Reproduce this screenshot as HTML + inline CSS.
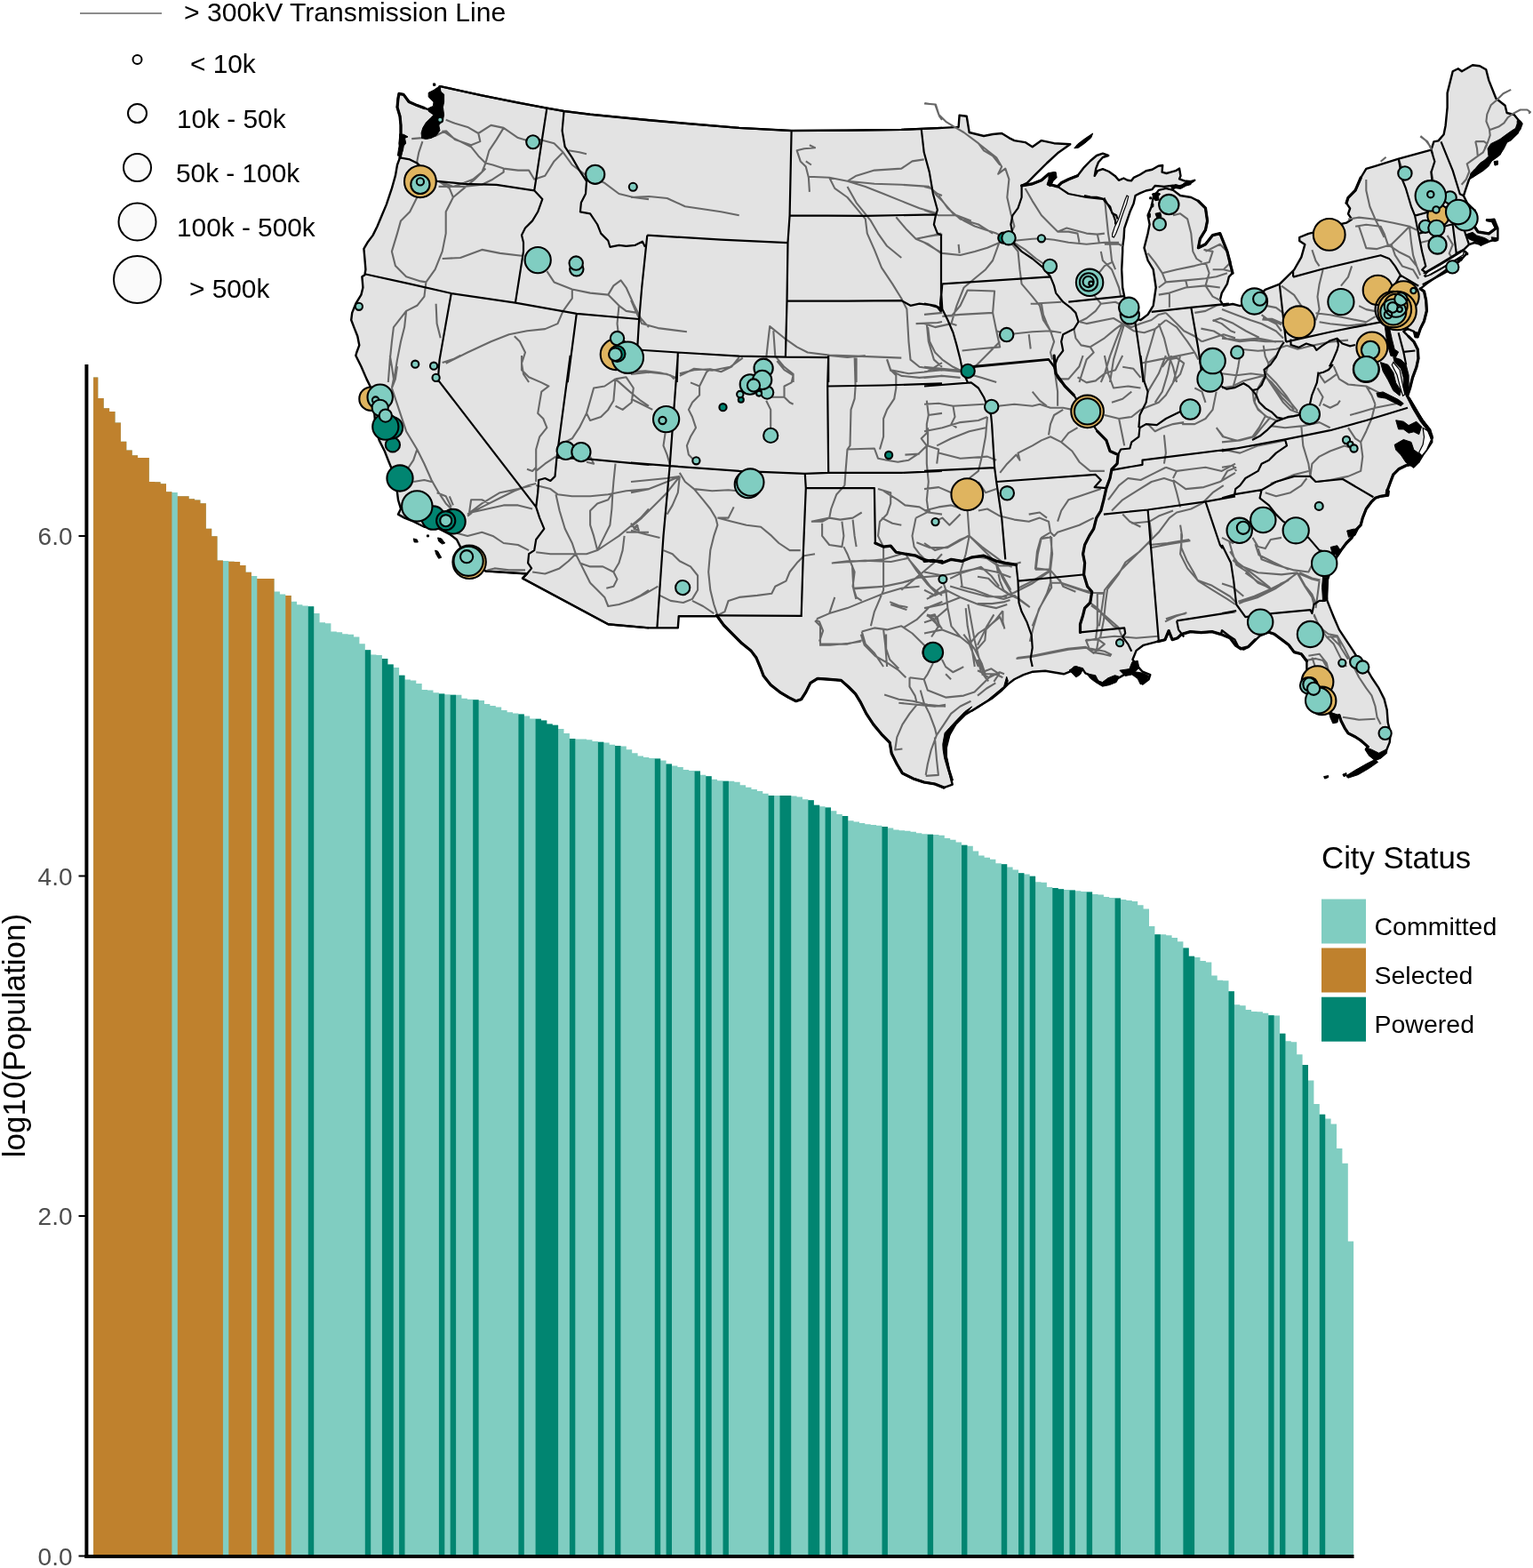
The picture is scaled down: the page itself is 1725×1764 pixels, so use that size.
<!DOCTYPE html><html><head><meta charset="utf-8"><title>City Status</title><style>html,body{margin:0;padding:0;background:#fff}svg{display:block}text{font-family:"Liberation Sans",Arial,sans-serif}</style></head><body>
<svg width="1725" height="1764" viewBox="0 0 1725 1764">
<rect width="1725" height="1764" fill="#fff"/>
<path d="M105.1,1750.5 L105.1,424.5 L110.3,424.5 L110.3,448.1 L116.7,448.1 L116.7,459.3 L123.1,459.3 L123.1,462.9 L129.5,462.9 L129.5,475.5 L135.9,475.5 L135.9,496.7 L142.3,496.7 L142.3,506.4 L148.7,506.4 L148.7,512.2 L155.0,512.2 L155.0,515.1 L161.4,515.1 L161.4,515.1 L167.8,515.1 L167.8,541.9 L174.2,541.9 L174.2,542.2 L180.6,542.2 L180.6,544.3 L187.0,544.3 L187.0,553.2 L193.4,553.2 L193.4,553.9 L199.8,553.9 L199.8,558.3 L206.2,558.3 L206.2,558.3 L212.6,558.3 L212.6,561.2 L219.0,561.2 L219.0,562.5 L225.4,562.5 L225.4,566.2 L231.8,566.2 L231.8,594.8 L238.2,594.8 L238.2,603.2 L244.5,603.2 L244.5,630.6 L250.9,630.6 L250.9,631.0 L257.3,631.0 L257.3,631.7 L263.7,631.7 L263.7,632.0 L270.1,632.0 L270.1,636.1 L276.5,636.1 L276.5,643.8 L282.9,643.8 L282.9,648.1 L289.3,648.1 L289.3,651.0 L295.7,651.0 L295.7,651.0 L302.1,651.0 L302.1,651.0 L308.5,651.0 L308.5,665.5 L314.9,665.5 L314.9,668.4 L321.3,668.4 L321.3,669.9 L327.7,669.9 L327.7,676.7 L334.0,676.7 L334.0,680.3 L340.4,680.3 L340.4,681.4 L346.8,681.4 L346.8,682.2 L353.2,682.2 L353.2,690.1 L359.6,690.1 L359.6,700.3 L366.0,700.3 L366.0,701.3 L372.4,701.3 L372.4,710.4 L378.8,710.4 L378.8,711.2 L385.2,711.2 L385.2,713.3 L391.6,713.3 L391.6,713.8 L398.0,713.8 L398.0,716.5 L404.4,716.5 L404.4,724.2 L410.8,724.2 L410.8,731.2 L417.2,731.2 L417.2,736.5 L423.5,736.5 L423.5,737.0 L429.9,737.0 L429.9,740.9 L436.3,740.9 L436.3,747.4 L442.7,747.4 L442.7,751.0 L449.1,751.0 L449.1,759.7 L455.5,759.7 L455.5,764.5 L461.9,764.5 L461.9,765.5 L468.3,765.5 L468.3,769.1 L474.7,769.1 L474.7,775.9 L481.1,775.9 L481.1,776.4 L487.5,776.4 L487.5,779.3 L493.9,779.3 L493.9,780.4 L500.3,780.4 L500.3,781.2 L506.7,781.2 L506.7,781.7 L513.1,781.7 L513.1,781.7 L519.4,781.7 L519.4,785.8 L525.8,785.8 L525.8,786.8 L532.2,786.8 L532.2,787.2 L538.6,787.2 L538.6,788.1 L545.0,788.1 L545.0,792.0 L551.4,792.0 L551.4,793.9 L557.8,793.9 L557.8,795.4 L564.2,795.4 L564.2,799.0 L570.6,799.0 L570.6,801.2 L577.0,801.2 L577.0,802.6 L583.4,802.6 L583.4,803.6 L589.8,803.6 L589.8,805.5 L596.2,805.5 L596.2,808.4 L602.6,808.4 L602.6,808.7 L608.9,808.7 L608.9,810.6 L615.3,810.6 L615.3,814.5 L621.7,814.5 L621.7,815.7 L628.1,815.7 L628.1,820.0 L634.5,820.0 L634.5,825.1 L640.9,825.1 L640.9,830.9 L647.3,830.9 L647.3,831.6 L653.7,831.6 L653.7,831.6 L660.1,831.6 L660.1,832.3 L666.5,832.3 L666.5,834.1 L672.9,834.1 L672.9,834.8 L679.3,834.8 L679.3,835.5 L685.7,835.5 L685.7,837.7 L692.1,837.7 L692.1,839.1 L698.4,839.1 L698.4,839.6 L704.8,839.6 L704.8,843.2 L711.2,843.2 L711.2,847.2 L717.6,847.2 L717.6,850.4 L724.0,850.4 L724.0,851.9 L730.4,851.9 L730.4,853.0 L736.8,853.0 L736.8,853.6 L743.2,853.6 L743.2,855.5 L749.6,855.5 L749.6,859.4 L756.0,859.4 L756.0,861.5 L762.4,861.5 L762.4,862.9 L768.8,862.9 L768.8,865.9 L775.2,865.9 L775.2,867.0 L781.6,867.0 L781.6,867.4 L788.0,867.4 L788.0,871.7 L794.3,871.7 L794.3,873.2 L800.7,873.2 L800.7,876.8 L807.1,876.8 L807.1,878.3 L813.5,878.3 L813.5,878.7 L819.9,878.7 L819.9,878.7 L826.3,878.7 L826.3,879.7 L832.7,879.7 L832.7,883.3 L839.1,883.3 L839.1,885.8 L845.5,885.8 L845.5,888.0 L851.9,888.0 L851.9,889.9 L858.3,889.9 L858.3,892.8 L864.7,892.8 L864.7,894.9 L871.1,894.9 L871.1,894.9 L877.5,894.9 L877.5,894.9 L883.8,894.9 L883.8,894.9 L890.2,894.9 L890.2,895.4 L896.6,895.4 L896.6,896.4 L903.0,896.4 L903.0,899.3 L909.4,899.3 L909.4,900.3 L915.8,900.3 L915.8,905.8 L922.2,905.8 L922.2,907.2 L928.6,907.2 L928.6,908.4 L935.0,908.4 L935.0,912.3 L941.4,912.3 L941.4,915.9 L947.8,915.9 L947.8,918.1 L954.2,918.1 L954.2,923.2 L960.6,923.2 L960.6,924.6 L967.0,924.6 L967.0,926.1 L973.3,926.1 L973.3,927.2 L979.7,927.2 L979.7,928.0 L986.1,928.0 L986.1,928.8 L992.5,928.8 L992.5,930.0 L998.9,930.0 L998.9,931.4 L1005.3,931.4 L1005.3,933.6 L1011.7,933.6 L1011.7,934.3 L1018.1,934.3 L1018.1,934.8 L1024.5,934.8 L1024.5,935.8 L1030.9,935.8 L1030.9,937.2 L1037.3,937.2 L1037.3,938.3 L1043.7,938.3 L1043.7,938.7 L1050.1,938.7 L1050.1,939.1 L1056.5,939.1 L1056.5,939.7 L1062.8,939.7 L1062.8,943.0 L1069.2,943.0 L1069.2,944.8 L1075.6,944.8 L1075.6,947.4 L1082.0,947.4 L1082.0,950.7 L1088.4,950.7 L1088.4,951.7 L1094.8,951.7 L1094.8,957.5 L1101.2,957.5 L1101.2,962.6 L1107.6,962.6 L1107.6,964.8 L1114.0,964.8 L1114.0,966.7 L1120.4,966.7 L1120.4,971.3 L1126.8,971.3 L1126.8,972.3 L1133.2,972.3 L1133.2,975.4 L1139.6,975.4 L1139.6,978.6 L1146.0,978.6 L1146.0,982.2 L1152.4,982.2 L1152.4,983.6 L1158.7,983.6 L1158.7,985.8 L1165.1,985.8 L1165.1,992.3 L1171.5,992.3 L1171.5,992.8 L1177.9,992.8 L1177.9,998.1 L1184.3,998.1 L1184.3,999.1 L1190.7,999.1 L1190.7,1000.3 L1197.1,1000.3 L1197.1,1001.0 L1203.5,1001.0 L1203.5,1001.4 L1209.9,1001.4 L1209.9,1002.3 L1216.3,1002.3 L1216.3,1003.0 L1222.7,1003.0 L1222.7,1003.5 L1229.1,1003.5 L1229.1,1006.1 L1235.5,1006.1 L1235.5,1006.4 L1241.9,1006.4 L1241.9,1009.0 L1248.2,1009.0 L1248.2,1010.0 L1254.6,1010.0 L1254.6,1010.4 L1261.0,1010.4 L1261.0,1011.9 L1267.4,1011.9 L1267.4,1012.9 L1273.8,1012.9 L1273.8,1013.9 L1280.2,1013.9 L1280.2,1018.3 L1286.6,1018.3 L1286.6,1022.6 L1293.0,1022.6 L1293.0,1041.9 L1299.4,1041.9 L1299.4,1051.3 L1305.8,1051.3 L1305.8,1051.3 L1312.2,1051.3 L1312.2,1052.3 L1318.6,1052.3 L1318.6,1054.9 L1325.0,1054.9 L1325.0,1059.3 L1331.4,1059.3 L1331.4,1066.5 L1337.7,1066.5 L1337.7,1075.7 L1344.1,1075.7 L1344.1,1077.1 L1350.5,1077.1 L1350.5,1081.0 L1356.9,1081.0 L1356.9,1082.5 L1363.3,1082.5 L1363.3,1097.4 L1369.7,1097.4 L1369.7,1102.8 L1376.1,1102.8 L1376.1,1103.2 L1382.5,1103.2 L1382.5,1115.3 L1388.9,1115.3 L1388.9,1130.2 L1395.3,1130.2 L1395.3,1131.3 L1401.7,1131.3 L1401.7,1136.0 L1408.1,1136.0 L1408.1,1137.9 L1414.5,1137.9 L1414.5,1138.3 L1420.9,1138.3 L1420.9,1139.8 L1427.3,1139.8 L1427.3,1142.2 L1433.6,1142.2 L1433.6,1142.5 L1440.0,1142.5 L1440.0,1162.8 L1446.4,1162.8 L1446.4,1171.2 L1452.8,1171.2 L1452.8,1172.3 L1459.2,1172.3 L1459.2,1186.3 L1465.6,1186.3 L1465.6,1197.9 L1472.0,1197.9 L1472.0,1215.5 L1478.4,1215.5 L1478.4,1241.9 L1484.8,1241.9 L1484.8,1253.7 L1491.2,1253.7 L1491.2,1258.4 L1497.6,1258.4 L1497.6,1264.6 L1504.0,1264.6 L1504.0,1292.0 L1510.4,1292.0 L1510.4,1308.7 L1516.8,1308.7 L1516.8,1396.4 L1523.1,1396.4 L1523.1,1750.5Z" fill="#80CDC1"/>
<path d="M105.1,1750.5 L105.1,424.5 L110.3,424.5 L110.3,448.1 L116.7,448.1 L116.7,459.3 L123.1,459.3 L123.1,462.9 L129.5,462.9 L129.5,475.5 L135.9,475.5 L135.9,496.7 L142.3,496.7 L142.3,506.4 L148.7,506.4 L148.7,512.2 L155.0,512.2 L155.0,515.1 L161.4,515.1 L161.4,515.1 L167.8,515.1 L167.8,541.9 L174.2,541.9 L174.2,542.2 L180.6,542.2 L180.6,544.3 L187.0,544.3 L187.0,553.2 L193.4,553.2 L193.4,1750.5Z M199.8,1750.5 L199.8,558.3 L206.2,558.3 L206.2,558.3 L212.6,558.3 L212.6,561.2 L219.0,561.2 L219.0,562.5 L225.4,562.5 L225.4,566.2 L231.8,566.2 L231.8,594.8 L238.2,594.8 L238.2,603.2 L244.5,603.2 L244.5,630.6 L250.9,630.6 L250.9,1750.5Z M257.3,1750.5 L257.3,631.7 L263.7,631.7 L263.7,632.0 L270.1,632.0 L270.1,636.1 L276.5,636.1 L276.5,643.8 L282.9,643.8 L282.9,1750.5Z M289.3,1750.5 L289.3,651.0 L295.7,651.0 L295.7,651.0 L302.1,651.0 L302.1,651.0 L308.5,651.0 L308.5,1750.5Z M321.3,1750.5 L321.3,669.9 L327.7,669.9 L327.7,1750.5Z" fill="#BF812D"/>
<path d="M346.8,1750.5 L346.8,682.2 L353.2,682.2 L353.2,1750.5Z M410.8,1750.5 L410.8,731.2 L417.2,731.2 L417.2,1750.5Z M429.9,1750.5 L429.9,740.9 L436.3,740.9 L436.3,747.4 L442.7,747.4 L442.7,1750.5Z M449.1,1750.5 L449.1,759.7 L455.5,759.7 L455.5,1750.5Z M493.9,1750.5 L493.9,780.4 L500.3,780.4 L500.3,1750.5Z M506.7,1750.5 L506.7,781.7 L513.1,781.7 L513.1,1750.5Z M532.2,1750.5 L532.2,787.2 L538.6,787.2 L538.6,1750.5Z M583.4,1750.5 L583.4,803.6 L589.8,803.6 L589.8,1750.5Z M602.6,1750.5 L602.6,808.7 L608.9,808.7 L608.9,810.6 L615.3,810.6 L615.3,814.5 L621.7,814.5 L621.7,815.7 L628.1,815.7 L628.1,1750.5Z M640.9,1750.5 L640.9,830.9 L647.3,830.9 L647.3,1750.5Z M672.9,1750.5 L672.9,834.8 L679.3,834.8 L679.3,1750.5Z M692.1,1750.5 L692.1,839.1 L698.4,839.1 L698.4,1750.5Z M736.8,1750.5 L736.8,853.6 L743.2,853.6 L743.2,1750.5Z M749.6,1750.5 L749.6,859.4 L756.0,859.4 L756.0,1750.5Z M781.6,1750.5 L781.6,867.4 L788.0,867.4 L788.0,1750.5Z M794.3,1750.5 L794.3,873.2 L800.7,873.2 L800.7,1750.5Z M813.5,1750.5 L813.5,878.7 L819.9,878.7 L819.9,1750.5Z M864.7,1750.5 L864.7,894.9 L871.1,894.9 L871.1,1750.5Z M877.5,1750.5 L877.5,894.9 L883.8,894.9 L883.8,894.9 L890.2,894.9 L890.2,1750.5Z M909.4,1750.5 L909.4,900.3 L915.8,900.3 L915.8,905.8 L922.2,905.8 L922.2,1750.5Z M928.6,1750.5 L928.6,908.4 L935.0,908.4 L935.0,1750.5Z M947.8,1750.5 L947.8,918.1 L954.2,918.1 L954.2,1750.5Z M992.5,1750.5 L992.5,930.0 L998.9,930.0 L998.9,1750.5Z M1043.7,1750.5 L1043.7,938.7 L1050.1,938.7 L1050.1,1750.5Z M1082.0,1750.5 L1082.0,950.7 L1088.4,950.7 L1088.4,1750.5Z M1126.8,1750.5 L1126.8,972.3 L1133.2,972.3 L1133.2,1750.5Z M1146.0,1750.5 L1146.0,982.2 L1152.4,982.2 L1152.4,1750.5Z M1158.7,1750.5 L1158.7,985.8 L1165.1,985.8 L1165.1,1750.5Z M1184.3,1750.5 L1184.3,999.1 L1190.7,999.1 L1190.7,1000.3 L1197.1,1000.3 L1197.1,1750.5Z M1203.5,1750.5 L1203.5,1001.4 L1209.9,1001.4 L1209.9,1750.5Z M1222.7,1750.5 L1222.7,1003.5 L1229.1,1003.5 L1229.1,1750.5Z M1254.6,1750.5 L1254.6,1010.4 L1261.0,1010.4 L1261.0,1750.5Z M1299.4,1750.5 L1299.4,1051.3 L1305.8,1051.3 L1305.8,1750.5Z M1331.4,1750.5 L1331.4,1066.5 L1337.7,1066.5 L1337.7,1075.7 L1344.1,1075.7 L1344.1,1750.5Z M1382.5,1750.5 L1382.5,1115.3 L1388.9,1115.3 L1388.9,1750.5Z M1427.3,1750.5 L1427.3,1142.2 L1433.6,1142.2 L1433.6,1750.5Z M1440.0,1750.5 L1440.0,1162.8 L1446.4,1162.8 L1446.4,1750.5Z M1465.6,1750.5 L1465.6,1197.9 L1472.0,1197.9 L1472.0,1750.5Z M1484.8,1750.5 L1484.8,1253.7 L1491.2,1253.7 L1491.2,1750.5Z" fill="#018571"/>
<g stroke="#000" fill="none"><path d="M97.4,410 V1753" stroke-width="4"/><path d="M95.4,1751 H1523.5" stroke-width="4"/><path d="M88.5,1750.5 H96 M88.5,1368 H96 M88.5,985.5 H96 M88.5,603 H96" stroke-width="2"/></g>
<g font-size="28px" fill="#4d4d4d" text-anchor="end"><text x="81.5" y="1760.5">0.0</text><text x="81.5" y="1378">2.0</text><text x="81.5" y="995.5">4.0</text><text x="81.5" y="613">6.0</text></g>
<text transform="translate(27.6,1165) rotate(-90)" font-size="35px" text-anchor="middle">log10(Population)</text>
<path d="M449.0,105.4 L454.1,106.4 L460.1,114.5 L469.3,118.6 L477.4,121.6 L483.5,123.6 L489.6,128.7 L493.6,120.6 L495.7,110.4 L494.6,97.2 L495.7,97.2 L542.3,107.4 L582.9,115.5 L615.4,121.6 L634.6,125.0 L664.1,128.7 L730.0,135.2 L770.9,138.8 L831.7,143.9 L890.6,147.0 L953.5,146.6 L1014.3,145.9 L1036.7,144.9 L1060.0,143.9 L1078.6,142.9 L1079.6,129.7 L1087.7,130.7 L1090.7,149.0 L1107.0,153.0 L1117.1,151.0 L1127.2,150.0 L1135.4,155.1 L1141.4,158.1 L1153.6,160.1 L1161.7,165.2 L1171.9,158.1 L1186.1,161.2 L1204.3,162.2 L1190.1,172.3 L1178.0,183.5 L1165.8,195.7 L1155.7,205.8 L1149.6,208.8 L1161.7,206.8 L1171.9,202.8 L1180.0,195.7 L1186.1,194.6 L1182.0,207.8 L1190.1,209.9 L1194.2,205.8 L1202.3,201.7 L1212.5,197.7 L1220.0,188.1 L1226.9,181.0 L1234.0,175.0 L1240.9,172.7 L1247.2,175.0 L1240.9,177.0 L1236.0,182.5 L1233.2,189.6 L1231.7,197.9 L1235.2,192.2 L1240.9,190.2 L1247.8,193.0 L1254.7,197.9 L1258.9,202.8 L1264.4,200.5 L1268.7,202.8 L1272.9,203.4 L1275.6,199.9 L1282.7,196.5 L1289.6,192.2 L1296.5,190.8 L1303.4,186.7 L1308.2,185.9 L1307.6,193.6 L1312.5,195.0 L1317.4,193.6 L1322.8,192.2 L1327.1,189.6 L1328.5,197.9 L1327.1,201.3 L1332.6,203.4 L1339.9,204.2 L1344.3,202.8 L1338.3,206.8 L1324.1,209.9 L1320.0,208.8 L1309.9,209.9 L1299.7,209.0 L1296.5,213.1 L1289.6,214.5 L1282.7,217.4 L1277.6,220.0 L1275.6,229.1 L1271.5,238.3 L1268.7,246.6 L1265.2,256.9 L1264.6,267.5 L1263.2,277.8 L1263.2,282.9 L1262.2,303.2 L1263.2,323.5 L1265.2,333.6 L1269.3,343.8 L1275.4,358.0 L1283.5,360.0 L1291.6,353.9 L1297.7,343.8 L1300.7,323.5 L1297.7,303.2 L1291.6,293.0 L1287.5,278.8 L1291.6,262.6 L1293.6,252.5 L1291.6,242.3 L1295.7,232.2 L1297.7,222.0 L1303.8,213.9 L1311.9,211.9 L1320.0,213.9 L1328.1,220.0 L1340.3,222.0 L1348.4,226.1 L1356.5,234.2 L1358.6,248.4 L1356.5,258.6 L1350.4,268.7 L1348.4,278.8 L1356.5,274.8 L1364.6,264.6 L1372.8,262.6 L1380.9,282.9 L1384.9,299.1 L1387.0,307.2 L1382.9,311.3 L1380.9,319.4 L1374.8,329.6 L1372.8,337.7 L1376.8,343.8 L1387.2,342.0 L1395.3,344.1 L1411.5,338.0 L1423.7,325.8 L1439.9,319.7 L1456.2,303.5 L1464.3,289.3 L1468.3,275.1 L1462.2,271.0 L1462.2,267.0 L1472.4,262.9 L1480.5,260.9 L1496.7,254.8 L1515.0,250.7 L1521.1,246.7 L1517.0,240.6 L1519.1,234.5 L1515.0,228.4 L1517.0,222.3 L1525.1,214.2 L1531.2,200.0 L1537.3,189.9 L1547.5,186.8 L1573.8,178.7 L1610.4,168.6 L1613.4,159.4 L1618.5,158.4 L1624.6,151.3 L1626.6,141.2 L1628.6,120.9 L1628.6,104.6 L1634.7,80.3 L1640.8,77.2 L1644.9,80.3 L1657.0,73.2 L1665.1,74.2 L1672.2,78.3 L1675.3,90.4 L1683.4,110.7 L1693.6,118.8 L1695.6,127.0 L1703.7,129.0 L1711.8,139.1 L1707.8,149.3 L1699.6,157.4 L1691.5,161.4 L1687.5,173.6 L1679.3,179.7 L1667.2,185.8 L1659.1,191.9 L1653.0,202.0 L1648.9,214.2 L1646.9,220.3 L1650.9,228.4 L1659.1,236.5 L1661.1,246.7 L1659.1,254.8 L1663.1,260.9 L1675.3,262.9 L1683.4,256.8 L1679.3,248.7 L1673.3,247.7 L1681.4,246.7 L1685.4,256.8 L1685.4,269.0 L1677.3,271.0 L1667.2,275.1 L1659.1,273.0 L1653.0,275.1 L1646.9,281.2 L1638.8,285.2 L1648.9,282.9 L1650.4,285.1 L1644.6,291.6 L1634.4,298.8 L1619.9,309.0 L1605.4,319.1 L1598.2,324.9 L1602.5,327.8 L1604.7,338.0 L1605.4,349.6 L1602.5,361.2 L1598.2,369.9 L1595.3,378.6 L1592.4,378.6 L1590.9,372.8 L1583.7,369.9 L1579.3,372.8 L1585.1,378.6 L1590.9,384.3 L1595.3,393.0 L1596.0,403.2 L1593.8,413.3 L1589.5,424.9 L1586.6,436.5 L1583.7,445.2 L1586.6,449.6 L1590.9,456.8 L1596.7,467.0 L1602.5,475.7 L1608.3,484.3 L1611.2,490.1 L1611.2,497.4 L1605.4,506.1 L1601.1,511.9 L1596.7,519.1 L1592.1,521.7 L1582.0,523.8 L1573.8,527.8 L1567.8,533.9 L1564.7,542.0 L1561.7,550.1 L1561.7,557.2 L1553.6,558.3 L1547.5,560.3 L1543.4,564.3 L1537.3,572.5 L1533.3,582.6 L1531.2,590.7 L1525.1,596.8 L1521.1,604.9 L1515.0,611.0 L1508.9,619.1 L1504.9,625.2 L1496.7,643.5 L1492.7,653.6 L1491.7,663.8 L1492.7,673.9 L1496.7,684.1 L1500.8,694.2 L1506.9,708.4 L1515.0,720.6 L1523.1,732.8 L1529.2,742.9 L1535.3,747.8 L1543.4,762.0 L1551.5,774.2 L1557.6,786.4 L1560.7,798.6 L1561.7,812.8 L1564.7,824.9 L1563.7,835.1 L1559.6,845.2 L1553.6,851.3 L1547.5,854.3 L1541.4,849.3 L1537.3,843.2 L1539.3,840.1 L1531.2,833.0 L1525.1,829.0 L1517.0,824.9 L1513.0,818.8 L1508.9,810.7 L1506.9,804.6 L1500.8,808.7 L1496.7,802.6 L1488.6,798.6 L1472.4,782.3 L1470.4,751.9 L1470.4,743.8 L1464.3,735.7 L1456.2,733.6 L1450.1,725.5 L1442.0,719.4 L1433.8,713.3 L1427.8,711.3 L1417.6,715.4 L1411.5,721.4 L1405.4,727.5 L1399.3,730.6 L1393.3,727.5 L1389.2,719.4 L1383.1,715.4 L1375.0,709.3 L1373.9,713.6 L1363.8,710.6 L1351.6,711.6 L1339.4,710.6 L1329.3,713.6 L1325.2,717.7 L1319.1,719.7 L1315.1,709.6 L1311.0,719.7 L1302.9,721.7 L1286.7,725.8 L1278.6,731.9 L1274.5,742.0 L1280.6,750.1 L1285.7,755.7 L1294.3,759.1 L1292.6,764.3 L1285.7,769.6 L1282.2,762.6 L1273.5,757.4 L1264.8,759.1 L1256.1,764.3 L1247.4,769.6 L1238.7,769.6 L1230.0,760.9 L1221.3,757.4 L1217.8,752.2 L1209.1,750.4 L1203.9,755.7 L1197.0,758.3 L1186.5,756.5 L1176.1,754.8 L1162.2,755.7 L1151.7,759.1 L1141.3,764.3 L1134.3,769.6 L1127.4,776.5 L1117.0,785.2 L1099.6,795.7 L1085.7,804.3 L1075.2,814.8 L1068.3,827.0 L1064.8,840.9 L1064.8,853.0 L1068.3,868.7 L1071.7,882.6 L1062.0,886.1 L1051.9,882.0 L1039.7,880.0 L1027.5,875.9 L1015.4,869.9 L1009.3,859.7 L1003.2,847.5 L1001.2,835.4 L993.0,827.2 L982.9,815.1 L974.8,802.9 L968.7,790.7 L962.6,780.6 L954.5,772.5 L946.4,765.4 L934.2,764.3 L920.0,763.3 L911.9,768.4 L906.8,778.6 L901.7,786.7 L895.7,788.7 L887.5,784.6 L877.4,778.6 L867.2,770.4 L859.1,760.3 L856.1,752.2 L851.0,740.0 L844.9,731.9 L834.8,723.8 L824.6,713.6 L814.5,703.5 L806.4,692.3 L805.4,693.2 L763.8,693.2 L762.8,706.4 L739.4,706.4 L730.0,706.4 L684.3,702.3 L588.0,650.6 L593.0,645.5 L546.4,642.5 L529.1,631.3 L522.0,623.2 L518.0,615.1 L513.9,607.0 L505.8,600.9 L493.6,594.8 L477.4,592.8 L465.2,586.7 L455.1,582.6 L448.0,578.6 L451.0,572.5 L448.0,562.3 L447.0,554.2 L440.9,527.8 L436.8,517.7 L432.8,507.5 L426.7,495.4 L422.6,481.2 L420.6,456.8 L416.5,434.5 L412.5,426.4 L406.4,412.2 L400.3,400.0 L401.3,396.5 L404.3,388.4 L402.3,378.3 L398.3,368.1 L395.2,360.0 L396.2,351.9 L400.3,341.7 L406.4,331.6 L408.4,323.5 L407.4,311.3 L410.4,309.3 L411.4,303.2 L410.4,291.0 L409.4,279.9 L413.5,272.8 L419.6,264.6 L424.6,254.5 L429.7,242.3 L434.8,230.1 L440.9,211.9 L444.9,197.7 L447.0,185.5 L450.0,177.4 L451.0,173.3 L450.0,161.2 L451.0,151.0 L451.0,140.9 L450.0,130.7 L447.0,120.6 L448.0,110.4Z" fill="#E3E3E3" stroke="#000" stroke-width="2.4" stroke-linejoin="round"/>
<path d="M501.7,134.8 L511.9,138.8 L526.1,142.9 L538.3,150.0 L552.5,140.9 L566.7,143.9 L582.9,155.1 L593.0,158.1 L607.2,157.1 L623.5,161.2 L633.6,171.3 L643.8,185.5 L660.0,197.7 L680.3,205.8 L696.5,218.0 L712.8,222.0 L730.0,224.1 M566.7,143.9 L558.6,157.1 L550.4,169.3 L546.4,183.5 L542.3,193.6 L532.2,201.7 L522.0,205.8 L509.9,209.9 L493.6,203.8 M497.7,147.0 L509.9,155.1 L530.1,165.2 L538.3,175.4 L546.4,183.5 L554.5,185.5 L566.7,189.6 L582.9,191.6 L595.1,191.6 L601.2,201.7 L613.3,197.7 L623.5,181.4 L633.6,171.3 M538.3,150.0 L540.3,159.1 L530.1,163.2 L511.9,157.1 L501.7,147.0 M475.4,159.1 L471.3,171.3 L469.3,181.4 L471.3,193.6 M463.2,156.1 L475.4,155.1 L489.6,153.0 L501.7,147.0 M493.6,203.8 L505.8,211.9 L509.9,222.0 L501.7,238.3 L501.7,262.6 L497.7,282.9 L489.6,303.2 L479.4,317.4 L477.4,333.6 L469.3,343.8 L457.1,349.9 L455.1,368.1 L451.0,384.3 L447.0,404.6 L442.9,430.0 M469.3,222.0 L461.2,238.3 L451.0,248.4 L447.0,262.6 L440.9,282.9 L444.9,299.1 L457.1,311.3 L473.3,316.4 L479.4,317.4 M493.6,209.9 L522.0,209.9 L542.3,207.8 L554.5,201.7 L566.7,193.6 L566.7,189.6 M509.9,222.0 L522.0,211.9 L534.2,201.7 L546.4,189.6 M497.7,291.0 L518.0,290.0 L542.3,280.9 L562.6,284.9 L589.0,288.0 M615.4,305.2 L623.5,317.4 L643.8,325.5 L664.1,329.6 L684.3,331.6 L696.5,343.8 L694.5,364.1 L696.5,380.3 M643.8,325.5 L643.8,335.7 L633.6,349.9 L627.5,364.1 L613.3,370.1 L593.0,372.2 L572.8,376.2 L552.5,384.3 L526.1,396.5 L501.7,408.7 M578.8,378.3 L584.9,384.3 L591.0,396.5 L587.0,408.7 L589.0,420.9 L595.1,430.0 M684.3,331.6 L690.4,321.4 L698.6,315.4 L704.6,323.5 L712.8,341.7 L720.9,358.0 L730.0,368.1 M490.6,341.7 L491.6,364.1 L495.7,380.3 M457.1,349.9 L442.9,368.1 L440.9,384.3 L438.8,404.6 L436.8,430.0 M639.7,169.3 L651.9,171.3 L660.0,173.3 M696.5,343.8 L704.6,349.9 L716.8,351.9 M710.0,222.0 L730.3,221.0 L750.6,223.0 L770.9,232.2 L791.2,235.2 L811.4,238.3 L831.7,242.3 M910.9,163.2 L917.0,166.2 L904.8,167.2 L896.7,169.3 L900.7,181.4 L906.8,187.5 L909.9,199.7 L910.9,215.9 M906.8,181.4 L912.9,185.5 M909.9,198.7 L933.2,199.7 L953.5,203.8 L963.6,197.7 L983.9,191.6 L1014.3,189.6 L1026.5,181.4 L1039.7,179.4 M933.2,199.7 L939.3,211.9 L953.5,222.0 L963.6,234.2 L973.8,246.4 L975.8,262.6 L983.9,280.9 L992.0,301.2 L1004.2,319.4 L1014.3,335.7 L1020.4,347.8 L1022.5,384.3 L1024.5,404.6 L1034.6,412.8 L1060.0,416.8 M953.5,203.8 L973.8,209.9 L994.1,218.0 L1014.3,226.1 L1034.6,234.2 L1054.9,240.3 M953.5,203.8 L983.9,206.8 L1014.3,207.8 L1044.8,209.9 L1054.9,218.0 L1060.0,220.0 M953.5,209.9 L963.6,228.1 L979.9,248.4 L988.0,262.6 L998.1,276.8 L1014.3,290.0 M1008.3,244.3 L1020.4,258.6 L1030.6,268.7 L1044.8,274.8 L1059.0,284.9 M1030.6,268.7 L1050.9,264.6 L1059.0,262.6 M710.0,337.7 L716.1,351.9 L722.2,364.1 L740.4,369.1 L772.9,373.2 M862.2,402.6 L864.2,384.3 L866.2,367.1 L882.5,380.3 L896.7,390.4 L908.8,396.5 L933.2,399.6 L963.6,400.6 L1014.3,402.6 M870.3,372.2 L872.3,400.6 L882.5,412.8 L892.6,420.9 L892.6,430.0 M1030.6,364.1 L1054.9,363.0 L1060.0,362.0 M1042.8,364.1 L1044.8,384.3 L1050.9,404.6 L1060.0,412.8 M1040.7,116.5 L1052.9,117.5 L1057.0,130.7 L1060.0,134.8 M963.6,402.6 L963.6,430.0 M998.1,404.6 L1002.2,416.8 L1014.3,422.9 L1034.6,424.9 L1060.0,422.9 M710.0,420.9 L730.3,418.8 L750.6,420.9 L760.7,424.9 M764.8,422.9 L781.0,414.8 L801.3,416.8 L821.6,412.8 L835.8,402.6 M1040.0,116.5 L1052.2,117.5 L1056.2,128.7 L1064.3,136.8 L1072.5,141.9 L1084.6,149.0 L1100.9,161.2 L1111.0,169.3 L1121.2,177.4 L1127.2,187.5 L1123.2,195.7 L1131.3,189.6 L1135.4,201.7 L1133.3,222.0 L1137.4,240.3 L1141.4,254.5 L1135.4,266.7 M1100.9,161.2 L1107.0,169.3 L1117.1,175.4 L1125.2,185.5 M1040.0,209.9 L1048.1,211.9 L1054.2,220.0 L1060.3,226.1 L1072.5,240.3 L1084.6,248.4 L1096.8,254.5 L1109.0,258.6 L1121.2,262.6 L1129.3,266.7 M1040.0,236.2 L1056.2,242.3 L1076.5,242.3 L1092.8,248.4 M1056.2,220.0 L1066.4,234.2 L1080.6,246.4 L1100.9,252.5 L1117.1,262.6 M1040.0,266.7 L1052.2,264.6 L1060.3,263.6 M1040.0,272.8 L1050.1,278.8 L1060.3,284.9 L1080.6,287.0 L1096.8,282.9 L1111.0,278.8 L1125.2,272.8 M1078.6,274.8 L1079.6,284.9 M1125.2,270.7 L1117.1,293.0 L1109.0,303.2 L1096.8,313.3 L1084.6,323.5 L1076.5,343.8 L1070.4,364.1 M1137.4,272.8 L1145.5,282.9 L1147.5,303.2 L1149.6,319.4 L1161.7,333.6 L1169.9,343.8 L1173.9,360.0 L1182.0,372.2 L1194.2,374.2 M1137.4,270.7 L1153.6,280.9 L1165.8,291.0 L1178.0,299.1 M1141.4,270.7 L1161.7,268.7 L1171.9,268.3 L1186.1,269.7 L1202.3,272.8 L1222.6,274.8 L1242.9,272.8 L1259.1,272.8 M1153.6,211.9 L1161.7,226.1 L1171.9,242.3 L1182.0,252.5 L1190.1,260.6 L1202.3,260.6 L1212.5,262.6 L1214.5,272.8 M1190.1,260.6 L1200.3,256.5 L1222.6,262.6 L1234.8,263.6 L1242.9,262.6 M1234.8,263.6 L1236.8,272.8 M1242.9,222.0 L1244.9,242.3 L1247.0,262.6 L1249.0,274.8 M1242.9,274.8 L1259.1,274.8 L1263.2,276.8 M1238.8,282.9 L1240.9,293.0 L1251.0,303.2 L1255.1,313.3 L1259.1,323.5 L1261.2,333.6 M1249.0,274.8 L1251.0,293.0 L1255.1,303.2 M1226.1,317.8 L1234.8,309.3 L1242.9,299.1 L1251.0,295.1 M1230.7,331.6 L1238.8,341.7 L1232.8,349.9 L1222.6,358.0 L1214.5,362.0 M1238.8,341.7 L1255.1,339.7 L1263.2,343.8 M1060.3,355.9 L1080.6,353.9 L1117.1,351.9 L1119.1,327.5 L1088.7,326.5 L1080.6,343.8 L1070.4,355.9 M1117.1,351.9 L1121.2,372.2 L1133.3,376.2 L1161.7,373.2 L1182.0,372.2 M1159.7,341.7 L1171.9,341.7 L1173.9,353.9 L1178.0,364.1 L1182.0,372.2 M1159.7,341.7 L1194.2,339.7 M1121.2,372.2 L1125.2,390.4 L1100.9,392.5 L1082.6,394.5 M1125.2,384.3 L1100.9,408.7 L1092.8,416.8 M1157.7,376.2 L1159.7,392.5 M1182.0,372.2 L1186.1,384.3 L1182.0,396.5 L1184.1,404.6 M1040.0,364.1 L1052.2,368.1 L1070.4,364.1 L1076.5,366.1 M1040.0,353.9 L1060.3,351.9 M1044.1,368.1 L1046.1,384.3 L1052.2,396.5 L1060.3,404.6 L1072.5,412.8 L1080.6,416.8 M1040.0,412.8 L1060.3,414.8 L1080.6,416.8 M1040.0,424.9 L1060.3,422.9 L1080.6,424.9 M1090.7,420.9 L1104.9,424.9 L1121.2,430.0 M1214.5,362.0 L1222.6,364.1 L1242.9,360.0 L1253.0,358.0 L1263.2,364.1 M1208.4,370.1 L1210.4,380.3 L1216.5,388.4 L1226.7,390.4 L1230.7,396.5 L1222.6,404.6 L1218.6,416.8 L1214.5,430.0 M1226.7,390.4 L1242.9,380.3 L1255.1,370.1 L1263.2,364.1 M1263.2,364.1 L1255.1,384.3 L1249.0,400.6 L1242.9,420.9 L1238.8,430.0 M1265.2,364.1 L1259.1,384.3 L1253.0,404.6 L1249.0,430.0 M1263.2,364.1 L1273.3,368.1 L1283.5,364.1 L1295.7,360.0 L1303.8,353.9 L1311.9,351.9 M1263.2,364.1 L1275.4,372.2 L1287.5,374.2 L1299.7,370.1 L1311.9,360.0 M1299.7,370.1 L1295.7,384.3 L1289.6,404.6 L1287.5,430.0 M1303.8,364.1 L1309.9,380.3 L1313.9,396.5 L1320.0,412.8 L1324.1,430.0 M1311.9,351.9 L1324.1,364.1 L1332.2,372.2 L1344.3,378.3 L1352.5,384.3 M1311.9,360.0 L1324.1,368.1 L1336.2,384.3 L1344.3,396.5 L1348.4,404.6 M1291.6,284.9 L1299.7,295.1 L1307.8,307.2 L1311.9,317.4 L1303.8,323.5 M1307.8,307.2 L1324.1,303.2 L1344.3,299.1 L1360.6,295.1 L1364.6,282.9 L1354.5,280.9 M1311.9,317.4 L1334.2,315.4 L1356.5,313.3 L1368.7,311.3 L1380.9,307.2 M1303.8,331.6 L1315.9,329.6 L1334.2,323.5 L1356.5,321.4 L1372.8,323.5 M1315.9,329.6 L1315.9,345.8 M1334.2,315.4 L1336.2,323.5 M1356.5,295.1 L1360.6,307.2 L1356.5,321.4 L1364.6,333.6 L1372.8,337.7 M1364.6,303.2 L1376.8,303.2 L1384.9,305.2 M1320.0,242.3 L1328.1,240.3 L1336.2,246.4 L1340.3,262.6 L1342.3,282.9 L1346.4,291.0 L1352.5,295.1 M1356.5,282.9 L1372.8,274.8 L1380.9,282.9 L1384.9,295.1 L1376.8,303.2 M1344.3,351.9 L1356.5,349.9 L1368.7,343.8 L1380.9,341.7 M1352.5,384.3 L1364.6,380.3 L1376.8,376.2 L1390.0,380.3 M1364.6,360.0 L1374.8,364.1 L1384.9,372.2 L1390.0,374.2 M1283.5,408.7 L1303.8,404.6 L1324.1,400.6 L1344.3,396.5 M1307.8,412.8 L1313.9,404.6 L1324.1,402.6 L1332.2,408.7 L1328.1,420.9 L1320.0,430.0 M1263.2,412.8 L1275.4,414.8 L1283.5,424.9 M1517.0,246.7 L1529.2,244.6 L1547.5,246.7 L1567.8,250.7 L1586.0,254.8 L1594.1,258.8 M1525.1,254.8 L1537.3,252.8 L1553.6,254.8 L1557.6,262.9 L1561.7,275.1 L1573.8,283.2 L1586.0,289.3 L1594.1,299.4 M1537.3,202.0 L1537.3,214.2 L1541.4,232.5 L1547.5,246.7 L1553.6,258.8 L1557.6,267.0 M1529.2,254.8 L1533.3,267.0 L1537.3,279.1 L1549.5,280.1 L1565.7,275.1 L1577.9,262.9 L1586.0,254.8 M1476.4,281.2 L1480.5,293.3 L1484.6,299.4 M1565.7,275.1 L1569.8,287.2 L1577.9,299.4 L1590.1,303.5 L1596.2,313.6 M1586.0,254.8 L1588.0,273.0 L1590.1,287.2 L1594.1,299.4 L1598.2,309.6 M1553.6,181.7 L1559.6,176.7 M1598.2,153.3 L1606.3,159.4 L1610.4,167.5 M1573.8,179.7 L1577.9,189.9 M1488.6,303.5 L1484.6,319.7 L1482.5,333.9 L1484.6,348.1 L1480.5,360.3 M1521.1,299.4 L1517.0,311.6 L1508.9,321.7 M1480.5,352.2 L1496.7,354.2 L1517.0,358.3 L1537.3,362.3 L1547.5,356.2 M1442.0,321.7 L1456.2,331.9 L1464.3,344.1 M1425.7,344.1 L1435.9,346.1 L1444.0,352.2 M1529.2,344.1 L1537.3,348.1 L1547.5,350.1 M1484.6,362.3 L1496.7,364.3 L1517.0,366.4 L1537.3,364.3 M1375.0,348.1 L1391.2,354.2 L1407.5,360.3 L1419.6,364.3 L1435.9,372.5 L1444.0,380.6 M1419.6,354.2 L1427.8,360.3 L1435.9,364.3 L1442.0,372.5 M1375.0,380.6 L1395.3,382.6 L1415.6,380.6 L1435.9,384.6 M1395.3,392.8 L1415.6,394.8 L1435.9,392.8 L1448.0,388.7 M1421.7,388.7 L1423.7,400.9 L1427.8,410.0 M1448.0,388.7 L1460.2,392.8 L1476.4,388.7 L1496.7,384.6 L1517.0,382.6 M1610.4,191.9 L1612.4,202.0 M1628.6,264.9 L1634.7,275.1 L1630.7,285.2 L1634.7,291.3 M1598.2,273.0 L1606.3,271.0 L1618.5,267.0 M1040.0,418.3 L1060.3,416.2 L1080.6,418.3 M1040.0,454.8 L1056.2,453.8 L1072.5,456.8 L1074.5,469.0 L1070.4,477.1 L1076.5,481.2 M1072.5,456.8 L1107.0,454.8 M1040.0,485.2 L1060.3,481.2 L1080.6,475.1 L1100.9,473.0 L1111.0,469.0 M1044.1,481.2 L1044.1,501.4 L1056.2,505.5 L1054.2,521.7 M1054.2,501.4 L1070.4,493.3 L1090.7,485.2 L1109.0,481.2 M1056.2,509.6 L1080.6,515.7 L1111.0,513.6 L1121.2,517.7 M1111.0,469.0 L1109.0,491.3 L1104.9,513.6 L1100.9,529.9 L1090.7,538.0 M1123.2,456.8 L1141.4,454.8 L1161.7,456.8 L1169.9,454.8 L1182.0,458.8 L1196.2,458.8 L1206.4,460.9 M1161.7,440.6 L1169.9,450.7 L1178.0,456.8 M1186.1,412.2 L1190.1,440.6 L1190.1,456.8 M1180.0,489.3 L1182.0,477.1 L1186.1,467.0 L1196.2,460.9 M1125.2,531.9 L1133.3,521.7 L1143.5,511.6 L1147.5,517.7 L1145.5,509.6 L1161.7,501.4 L1171.9,495.4 L1182.0,491.3 L1194.2,497.4 L1206.4,507.5 L1214.5,519.7 L1226.7,529.9 L1242.9,529.9 M1194.2,497.4 L1202.3,487.2 L1212.5,481.2 M1100.9,542.0 L1109.0,554.2 L1121.2,550.1 M1040.0,550.1 L1056.2,548.1 L1070.4,554.2 M1040.0,574.5 L1056.2,570.4 L1070.4,568.4 L1088.7,574.5 M1088.7,574.5 L1090.7,602.9 L1086.7,623.2 L1080.6,643.5 L1082.6,659.7 M1090.7,602.9 L1104.9,615.1 L1121.2,627.2 L1129.3,633.3 M1052.2,586.7 L1060.3,582.6 L1068.4,590.7 L1080.6,578.6 M1040.0,611.0 L1052.2,619.1 L1066.4,615.1 L1080.6,607.0 L1090.7,602.9 M1100.9,574.5 L1111.0,572.5 L1125.2,580.6 L1141.4,584.6 L1157.7,586.7 L1169.9,582.6 L1180.0,586.7 L1182.0,598.8 M1157.7,578.6 L1169.9,576.5 L1178.0,582.6 M1182.0,598.8 L1186.1,602.9 L1190.1,598.8 L1202.3,594.8 L1214.5,590.7 L1230.7,582.6 M1182.0,598.8 L1171.9,604.9 L1167.8,623.2 L1165.8,639.4 L1182.0,641.4 M1182.0,602.9 L1184.1,623.2 L1182.0,641.4 L1182.0,655.7 M1190.1,586.7 L1194.2,574.5 L1202.3,562.3 L1214.5,558.3 L1238.8,550.1 M1145.5,661.7 L1161.7,653.6 L1182.0,641.4 M1161.7,704.3 L1169.9,684.1 L1178.0,667.8 L1182.0,655.7 L1194.2,655.7 L1218.6,663.8 L1226.7,665.8 M1192.2,651.6 L1196.2,659.7 L1210.4,665.8 M1226.7,678.0 L1234.8,684.1 L1242.9,694.2 L1253.0,704.3 L1261.2,708.4 M1236.8,704.3 L1242.9,663.8 L1251.0,653.6 L1263.2,639.4 L1279.4,623.2 L1291.6,611.0 M1234.8,667.8 L1242.9,667.8 M1247.0,562.3 L1259.1,546.1 L1269.3,538.0 L1283.5,540.0 L1299.7,531.9 L1311.9,525.8 M1251.0,574.5 L1263.2,562.3 L1279.4,552.2 L1295.7,542.0 L1309.9,538.0 L1322.0,542.0 M1263.2,578.6 L1271.3,586.7 L1283.5,592.8 M1273.3,588.7 L1293.6,586.7 L1303.8,580.6 L1320.0,574.5 M1293.6,613.0 L1313.9,611.0 L1338.3,607.0 M1293.6,586.7 L1295.7,602.9 L1293.6,613.0 M1291.6,611.0 L1303.8,598.8 L1315.9,582.6 L1324.1,576.5 L1340.3,572.5 L1352.5,566.4 M1328.1,590.7 L1330.1,602.9 L1328.1,623.2 L1336.2,639.4 L1348.4,653.6 L1364.6,663.8 L1380.9,673.9 L1390.0,680.0 M1311.9,696.2 L1324.1,692.2 L1334.2,690.1 M1143.5,740.9 L1161.7,738.8 L1182.0,734.8 L1202.3,730.7 L1222.6,728.7 L1242.9,732.8 L1251.0,736.8 M1222.6,720.6 L1234.8,718.6 L1242.9,724.6 L1230.7,734.8 L1222.6,728.7 M1234.8,667.8 L1234.8,704.3 L1232.8,720.6 M1040.0,643.5 L1060.3,647.5 L1080.6,643.5 L1100.9,639.4 L1121.2,643.5 L1137.4,649.6 M1060.3,651.6 L1064.3,663.8 L1080.6,671.9 L1100.9,680.0 L1121.2,684.1 L1133.3,680.0 M1040.0,663.8 L1052.2,669.9 L1064.3,663.8 M1040.0,684.1 L1060.3,680.0 L1080.6,671.9 M1064.3,663.8 L1066.4,684.1 L1070.4,704.3 L1080.6,716.5 L1090.7,724.6 L1100.9,750.0 M1080.6,659.7 L1096.8,663.8 L1113.0,669.9 L1129.3,673.9 L1141.4,669.9 L1157.7,682.0 M1121.2,635.4 L1125.2,653.6 L1129.3,663.8 L1137.4,669.9 M1109.0,627.2 L1121.2,635.4 L1137.4,663.8 M1040.0,712.5 L1060.3,708.4 L1080.6,716.5 M1090.7,724.6 L1100.9,712.5 L1113.0,704.3 L1125.2,694.2 L1129.3,704.3 M1040.0,700.3 L1052.2,696.2 L1066.4,684.1 M1044.1,692.2 L1056.2,704.3 L1048.1,716.5 M1086.7,684.1 L1088.7,704.3 L1092.8,724.6 L1096.8,750.0 M1190.1,426.4 L1202.3,426.4 L1214.5,412.2 L1218.6,400.0 M1212.5,424.3 L1222.6,430.4 L1232.8,428.4 L1242.9,420.3 L1255.1,416.2 L1263.2,400.0 M1242.9,400.0 L1247.0,420.3 L1253.0,436.5 L1269.3,434.5 L1283.5,436.5 M1251.0,452.8 L1263.2,448.7 L1273.3,440.6 M1242.9,467.0 L1259.1,471.0 L1263.2,491.3 L1265.2,501.4 M1259.1,471.0 L1273.3,469.0 L1283.5,460.9 M1283.5,460.9 L1293.6,456.8 L1303.8,452.8 L1311.9,444.6 L1320.0,430.4 L1324.1,416.2 L1328.1,400.0 M1291.6,440.6 L1303.8,420.3 L1311.9,400.0 M1299.7,452.8 L1307.8,440.6 L1313.9,420.3 L1318.0,400.0 M1291.6,477.1 L1299.7,485.2 L1307.8,481.2 L1320.0,477.1 L1332.2,475.1 M1309.9,489.3 L1311.9,509.6 L1309.9,521.7 M1330.1,477.1 L1344.3,477.1 L1356.5,471.0 L1364.6,460.9 L1368.7,440.6 M1344.3,436.5 L1352.5,440.6 L1356.5,452.8 M1368.7,481.2 L1376.8,491.3 L1390.0,495.4 M1311.9,525.8 L1324.1,529.9 L1320.0,538.0 M1324.1,529.9 L1340.3,527.8 L1356.5,525.8 L1374.8,529.9 L1390.0,521.7 M1320.0,540.0 L1334.2,550.1 L1354.5,548.1 L1372.8,542.0 L1390.0,531.9 M1320.0,540.0 L1324.1,554.2 L1328.1,570.4 M1352.5,566.4 L1364.6,554.2 L1376.8,546.1 M1375.0,420.3 L1391.2,422.3 L1407.5,420.3 L1423.7,422.3 M1395.3,400.0 L1393.3,412.2 L1391.2,422.3 L1387.2,436.5 M1423.7,422.3 L1427.8,408.1 L1435.9,400.0 M1423.7,422.3 L1415.6,436.5 L1411.5,452.8 L1415.6,460.9 L1425.7,469.0 L1435.9,473.0 L1452.1,469.0 L1462.2,467.0 M1375.0,436.5 L1387.2,434.5 L1399.3,428.4 L1423.7,422.3 M1423.7,422.3 L1435.9,440.6 L1444.0,452.8 L1452.1,460.9 L1462.2,464.9 M1427.8,428.4 L1442.0,446.7 L1456.2,460.9 M1375.0,497.4 L1395.3,495.4 L1411.5,491.3 L1419.6,481.2 L1429.8,469.0 M1375.0,505.5 L1395.3,509.6 L1415.6,501.4 L1446.0,495.4 M1429.8,479.1 L1446.0,481.2 L1466.3,479.1 L1484.6,475.1 L1496.7,481.2 M1464.3,479.1 L1466.3,501.4 L1472.4,521.7 L1474.4,535.9 M1474.4,535.9 L1476.4,521.7 L1484.6,513.6 L1496.7,507.5 L1513.0,501.4 L1525.1,505.5 M1482.5,542.0 L1496.7,540.0 L1517.0,535.9 L1531.2,529.9 L1533.3,513.6 L1531.2,497.4 L1537.3,485.2 L1543.4,471.0 L1547.5,454.8 M1517.0,481.2 L1525.1,493.3 L1531.2,497.4 M1519.1,467.0 L1533.3,462.9 L1547.5,458.8 L1557.6,456.8 L1577.9,452.8 M1488.6,454.8 L1496.7,458.8 L1504.9,454.8 L1507.9,450.7 M1482.5,418.3 L1490.7,430.4 L1496.7,426.4 L1504.9,420.3 M1482.5,436.5 L1488.6,446.7 L1484.6,456.8 M1500.8,412.2 L1506.9,426.4 L1517.0,432.5 L1537.3,434.5 L1543.4,444.6 L1547.5,454.8 M1537.3,434.5 L1549.5,440.6 L1561.7,446.7 L1573.8,450.7 M1375.0,525.8 L1387.2,523.8 L1391.2,529.9 M1375.0,540.0 L1381.1,529.9 L1391.2,525.8 M1429.8,544.1 L1442.0,540.0 L1456.2,533.9 L1472.4,529.9 M1423.7,554.2 L1435.9,558.3 L1452.1,554.2 L1464.3,546.1 L1470.4,538.0 M1375.0,604.9 L1387.2,611.0 L1395.3,602.9 M1409.5,604.9 L1415.6,615.1 L1423.7,617.1 L1429.8,607.0 L1442.0,604.9 M1383.1,609.0 L1387.2,623.2 L1391.2,635.4 L1403.4,643.5 L1415.6,655.7 L1429.8,661.7 M1415.6,617.1 L1419.6,629.3 L1435.9,635.4 L1456.2,641.4 L1472.4,643.5 L1476.4,635.4 M1395.3,678.0 L1415.6,671.9 L1435.9,661.7 L1448.0,653.6 L1458.2,645.5 M1460.2,645.5 L1468.3,659.7 L1476.4,671.9 L1478.5,680.0 M1462.2,645.5 L1476.4,651.6 L1484.6,653.6 M1484.6,653.6 L1482.5,669.9 L1480.5,684.1 M1478.5,692.2 L1484.6,704.3 L1492.7,716.5 L1500.8,724.6 L1508.9,740.9 L1515.0,750.0 M1492.7,716.5 L1504.9,716.5 L1508.9,728.7 M1470.4,742.9 L1480.5,740.9 L1488.6,742.9 L1492.7,750.0 M438.8,400.0 L440.9,412.2 L442.9,426.4 L440.9,436.5 M447.0,412.2 L444.9,426.4 L440.9,436.5 M440.9,436.5 L449.0,460.9 L457.1,485.2 L469.3,505.5 L477.4,521.7 L485.5,540.0 L493.6,554.2 L501.7,566.4 L509.9,574.5 M457.1,529.9 L465.2,517.7 L469.3,505.5 M465.2,542.0 L477.4,540.0 L485.5,542.0 M491.6,554.2 L501.7,558.3 L507.8,570.4 M505.8,558.3 L509.9,568.4 M526.1,580.6 L534.2,574.5 L546.4,568.4 L562.6,560.3 L578.8,552.2 L595.1,546.1 L603.2,544.1 M526.1,578.6 L542.3,566.4 L562.6,554.2 L582.9,550.1 L599.1,546.1 M528.1,576.5 L530.1,562.3 L542.3,562.3 L550.4,566.4 M530.1,576.5 L548.4,572.5 L566.7,568.4 L582.9,568.4 L599.1,572.5 M509.9,598.8 L526.1,602.9 L542.3,598.8 L554.5,602.9 L566.7,611.0 L582.9,613.0 L595.1,619.1 M548.4,641.4 L556.5,639.4 L572.8,641.4 L591.0,641.4 M599.1,643.5 L613.3,645.5 L629.6,639.4 L639.7,631.3 L647.8,623.2 M603.2,621.2 L619.4,623.2 L635.7,623.2 L647.8,623.2 M497.7,408.1 L509.9,404.1 L518.0,400.0 M587.0,400.0 L587.0,416.2 L595.1,424.3 L609.3,430.4 L617.4,434.5 L609.3,440.6 L607.2,452.8 L605.2,464.9 L611.3,471.0 L615.4,481.2 L607.2,491.3 L603.2,505.5 L603.2,521.7 L603.2,542.0 M593.0,527.8 L599.1,529.9 L603.2,525.8 M603.2,529.9 L613.3,521.7 L625.5,513.6 M692.5,426.4 L680.3,434.5 L668.1,436.5 L664.1,450.7 L660.0,464.9 L651.9,481.2 L643.8,493.3 L635.7,497.4 M692.5,426.4 L690.4,450.7 L684.3,460.9 L676.2,469.0 L664.1,473.0 L660.0,464.9 M692.5,426.4 L704.6,424.3 L712.8,436.5 L710.7,452.8 L700.6,460.9 L692.5,456.8 M692.5,426.4 L708.7,440.6 L720.9,450.7 L730.0,456.8 M724.9,418.3 L730.0,419.3 M664.1,513.6 L668.1,521.7 L660.0,519.7 M692.5,521.7 L690.4,542.0 L689.4,554.2 L684.3,562.3 L672.2,566.4 L664.1,574.5 L664.1,590.7 L668.1,602.9 L672.2,619.1 M689.4,554.2 L688.4,572.5 L686.4,590.7 L680.3,602.9 L672.2,619.1 M603.2,546.1 L619.4,550.1 L627.5,556.2 L643.8,558.3 L664.1,558.3 L684.3,556.2 L704.6,552.2 L730.0,550.1 M625.5,556.2 L629.6,574.5 L635.7,594.8 L643.8,611.0 L647.8,623.2 L653.9,635.4 L660.0,647.5 L664.1,655.7 M647.8,623.2 L660.0,623.2 L672.2,619.1 L684.3,611.0 L696.5,602.9 L708.7,592.8 L720.9,582.6 L730.0,572.5 M651.9,633.3 L664.1,637.4 L678.3,637.4 L690.4,643.5 L694.5,651.6 L690.4,659.7 L682.3,661.7 M664.1,655.7 L672.2,663.8 L680.3,671.9 L684.3,682.0 L696.5,680.0 L708.7,675.9 L720.9,669.9 L730.0,663.8 M702.6,602.9 L700.6,619.1 L696.5,633.3 L690.4,643.5 M712.8,594.8 L716.8,590.7 L718.8,596.8 L712.8,594.8 M704.6,598.8 L730.0,598.8 M710.0,418.3 L726.2,417.2 L742.5,419.3 L754.6,422.3 L758.7,426.4 M764.8,420.3 L781.0,416.2 L799.3,415.2 L811.4,418.3 L823.6,412.2 L831.7,402.0 M777.0,430.4 L787.1,434.5 L795.2,418.3 L799.3,415.2 M787.1,434.5 L787.1,444.6 L779.0,452.8 L774.9,460.9 L779.0,469.0 L783.0,481.2 L777.0,491.3 L772.9,501.4 L774.9,511.6 L781.0,517.7 M710.0,448.7 L722.2,454.8 L734.3,460.9 M748.6,487.2 L746.5,501.4 L750.6,511.6 L753.6,521.7 M710.0,542.0 L730.3,540.0 L750.6,538.0 L764.8,535.9 M710.0,554.2 L730.3,550.1 L750.6,542.0 L764.8,535.9 M710.0,592.8 L722.2,582.6 L736.4,568.4 L750.6,554.2 L764.8,535.9 M764.8,531.9 L770.9,542.0 L781.0,550.1 L791.2,562.3 L799.3,572.5 L805.4,582.6 L807.4,590.7 L803.3,602.9 L799.3,619.1 L797.2,643.5 L799.3,663.8 L803.3,680.0 L807.4,692.2 M750.6,578.6 L756.7,568.4 L762.8,554.2 L764.8,535.9 M781.0,550.1 L801.3,552.2 L819.6,551.2 L829.7,552.2 M807.4,582.6 L819.6,582.6 L825.7,570.4 M807.4,582.6 L823.6,586.7 L839.9,590.7 L856.1,592.8 L868.3,602.9 L876.4,611.0 L888.6,619.1 L900.7,619.1 M710.0,588.7 L714.1,594.8 L718.1,590.7 M710.0,596.8 L726.2,600.9 L742.5,604.9 M746.5,619.1 L756.7,623.2 L764.8,631.3 L777.0,637.4 L785.1,647.5 L785.1,663.8 L779.0,673.9 L768.8,678.0 L754.6,675.9 L742.5,669.9 M710.0,675.9 L726.2,667.8 L740.4,659.7 M779.0,675.9 L791.2,682.0 L803.3,690.1 M807.4,692.2 L815.5,688.1 L819.6,675.9 L831.7,671.9 L852.0,669.9 L868.3,667.8 L872.3,659.7 L884.5,653.6 L888.6,643.5 L896.7,633.3 L904.8,625.2 L917.0,623.2 M862.2,450.7 L867.2,460.9 L867.2,481.2 M874.3,406.1 L882.5,416.2 L892.6,422.3 L890.6,430.4 L882.5,434.5 L882.5,446.7 L888.6,452.8 L892.6,454.8 M868.3,446.7 L882.5,446.7 M961.6,400.0 L962.6,434.5 L961.6,448.7 L957.5,460.9 L956.5,501.4 L953.5,505.5 L951.4,531.9 L950.4,546.1 M953.5,505.5 L983.9,504.5 L988.0,515.7 L998.1,517.7 L1010.3,519.7 L1022.5,517.7 L1034.6,509.6 L1042.8,501.4 M998.1,404.1 L1002.2,416.2 L1008.3,422.3 L1008.3,436.5 L1006.2,448.7 L998.1,460.9 L994.1,471.0 L994.1,491.3 L990.0,505.5 M1002.2,416.2 L1022.5,420.3 L1042.8,418.3 L1060.0,408.1 M933.2,400.0 L953.5,402.0 L973.8,400.0 M1042.8,450.7 L1044.8,467.0 L1042.8,477.1 L1042.8,487.2 L1036.7,493.3 L1042.8,501.4 L1042.8,521.7 L1044.8,542.0 L1042.8,562.3 L1044.8,576.5 M1044.8,467.0 L1060.0,464.9 M1018.4,511.6 L1034.6,510.6 M950.4,546.1 L941.3,556.2 L935.2,572.5 L933.2,582.6 L912.9,586.7 M912.9,586.7 L925.1,586.7 L933.2,582.6 L945.4,584.6 L959.6,582.6 L969.7,576.5 M925.1,588.7 L925.1,602.9 L933.2,613.0 L947.4,615.1 L949.4,602.9 L947.4,586.7 M959.6,584.6 L961.6,602.9 L963.6,615.1 M949.4,615.1 L953.5,623.2 L957.5,633.3 L961.6,643.5 L959.6,659.7 L963.6,671.9 L969.7,675.9 M937.2,633.3 L953.5,631.3 L973.8,631.3 L994.1,629.3 L1014.3,623.2 M994.1,552.2 L1000.1,556.2 L1010.3,562.3 L1018.4,568.4 L1034.6,570.4 L1044.8,576.5 L1060.0,578.6 M988.0,550.1 L1002.2,554.2 L1002.2,566.4 L998.1,578.6 L990.0,586.7 L988.0,602.9 L994.1,615.1 M992.0,582.6 L1004.2,588.7 L1014.3,590.7 M1030.6,582.6 L1038.7,578.6 L1046.8,574.5 M1030.6,582.6 L1026.5,602.9 L1028.6,615.1 L1034.6,623.2 L1042.8,631.3 M994.1,615.1 L994.1,643.5 L994.1,663.8 L990.0,673.9 L983.9,688.1 L979.9,704.3 M959.6,661.7 L994.1,659.7 L1014.3,655.7 L1034.6,649.6 L1060.0,647.5 M919.0,696.2 L933.2,690.1 L953.5,684.1 L973.8,675.9 L994.1,667.8 L1014.3,661.7 L1034.6,659.7 M917.0,698.3 L923.0,704.3 L923.0,724.6 L933.2,724.6 L953.5,724.6 L969.7,720.6 M939.3,671.9 L935.2,684.1 L933.2,690.1 M969.7,710.4 L973.8,724.6 L983.9,734.8 L994.1,750.0 M969.7,710.4 L983.9,706.4 L998.1,708.4 L1014.3,704.3 L1026.5,712.5 L1038.7,724.6 L1046.8,732.8 M994.1,708.4 L996.1,724.6 L998.1,750.0 M1002.2,680.0 L1014.3,684.1 L1020.4,686.1 M1014.3,663.8 L1026.5,653.6 L1038.7,643.5 L1050.9,633.3 L1060.0,623.2 M1022.5,629.3 L1034.6,643.5 L1046.8,659.7 L1060.0,669.9 M1042.8,673.9 L1050.9,669.9 L1054.9,663.8 L1060.0,659.7 M1042.8,692.2 L1050.9,696.2 L1054.9,704.3 M995.1,781.6 L1011.3,786.7 L1027.5,788.7 L1043.8,792.8 L1064.1,794.8 M1011.3,790.7 L1031.6,792.8 L1051.9,794.8 L1064.1,792.8 M1023.5,762.3 L1023.5,772.5 L1029.6,782.6 L1031.6,790.7 M1023.5,762.3 L1039.7,764.3 L1043.8,758.3 L1049.9,746.1 M1039.7,764.3 L1043.8,776.5 L1064.1,784.6 L1084.3,782.6 L1096.5,778.6 L1108.7,766.4 L1116.8,758.3 M1035.7,776.5 L1039.7,790.7 L1045.8,802.9 L1051.9,819.1 L1053.9,827.2 M1031.6,792.8 L1023.5,802.9 L1015.4,815.1 L1009.3,829.3 L1007.2,843.5 L1015.4,842.5 M1053.9,827.2 L1047.8,843.5 L1043.8,859.7 L1041.7,871.9 M1053.9,827.2 L1062.0,815.1 L1070.1,802.9 L1080.3,794.8 L1092.5,788.7 M1051.9,829.3 L1053.9,853.6 L1055.9,871.9 L1041.7,872.9 M968.7,713.6 L972.8,725.8 L984.9,738.0 L999.1,746.1 L1011.3,754.2 L1019.4,762.3 M997.1,713.6 L997.1,729.9 L1001.2,742.0 L1011.3,752.2 M922.0,725.8 L934.2,725.8 L954.5,723.8 L968.7,721.7 M922.0,721.7 L926.1,709.6 L922.0,699.4 L918.0,697.4 M1060.0,742.0 L1064.1,750.1 L1072.2,756.2 L1080.3,752.2 L1084.3,750.1 M1064.1,758.3 L1070.1,764.3 M1043.8,693.3 L1051.9,691.3 L1055.9,701.4 L1060.0,707.5 M1001.2,677.1 L1011.3,681.2 L1021.4,683.2 M1104.6,758.3 L1112.8,762.3 L1124.9,756.2 L1130.0,758.3 M1096.5,729.9 L1104.6,746.1 L1108.7,758.3 M1084.3,713.6 L1096.5,729.9 M1144.6,740.0 L1160.9,738.0 L1181.2,733.9 L1201.4,729.9 L1221.7,727.8 L1229.9,733.9 L1242.0,735.9 L1250.1,738.0 M1221.7,719.7 L1225.8,729.9 L1233.9,731.9 L1235.9,719.7 L1221.7,719.7 M1235.9,717.7 L1254.2,715.7 L1278.6,717.7 L1302.9,715.7 M1238.0,717.7 L1242.0,697.4 L1244.1,677.1 L1246.1,662.9 M1227.8,681.2 L1242.0,691.3 L1258.3,705.5 L1262.3,715.7 M1225.8,667.0 L1242.0,667.0 M1246.1,662.9 L1258.3,646.7 L1266.4,632.5 L1282.6,620.3 L1294.8,608.1 M1294.8,616.2 L1315.1,612.2 L1339.4,608.1 M1329.3,600.0 L1329.3,616.2 L1335.4,630.4 L1343.5,644.6 L1347.5,652.8 L1363.8,658.8 L1384.1,671.0 L1392.2,679.1 M1311.0,699.4 L1323.2,693.3 L1335.4,689.3 M1394.2,679.1 L1412.5,671.0 L1428.7,664.9 L1440.9,656.8 L1450.0,652.8 M1384.1,620.3 L1392.2,632.5 L1408.4,644.6 L1428.7,660.9 M1412.5,612.2 L1416.5,624.3 L1432.8,632.5 L1450.0,640.6 M1164.9,640.6 L1167.0,620.3 L1171.0,606.1 L1183.2,604.1 M1164.9,640.6 L1181.2,640.6 L1183.2,620.3 L1183.2,604.1 M1181.2,640.6 L1183.2,660.9 L1177.1,671.0 L1169.0,685.2 L1162.9,705.5 L1158.8,721.7 M1181.2,640.6 L1195.4,656.8 L1213.6,662.9 L1225.8,667.0 M1128.4,671.0 L1140.6,667.0 L1160.9,656.8 L1181.2,642.6 M1100.0,626.4 L1112.2,628.4 L1124.3,636.5 L1136.5,636.5 L1148.7,632.5 M1100.0,648.7 L1112.2,650.7 L1120.3,658.8 L1132.5,667.0 L1144.6,673.0 L1158.8,683.2 M1100.0,679.1 L1116.2,679.1 L1130.4,677.1 L1136.5,675.1 M1120.3,632.5 L1128.4,650.7 L1136.5,664.9 L1140.6,671.0 M1128.4,687.2 L1128.4,699.4 L1130.4,707.5 M1100.0,725.8 L1108.1,709.6 L1120.3,697.4 L1128.4,687.2 M1100.0,754.2 L1108.1,758.3 L1120.3,758.3 L1128.4,762.3 M1100.0,742.0 L1104.1,756.2 L1112.2,766.4 M1100.0,782.6 L1110.1,774.5 L1120.3,768.4 M1375.0,656.5 L1387.2,660.6 L1399.3,670.7 M1387.2,630.1 L1395.3,636.2 L1415.6,644.3 L1442.0,646.4 L1460.2,644.3 M1460.2,644.3 L1468.3,658.6 L1476.4,668.7 L1480.5,678.8 M1462.2,644.3 L1476.4,650.4 L1485.6,652.5 M1393.3,676.8 L1411.5,670.7 L1429.8,662.6 L1446.0,654.5 L1460.2,644.3 M1401.4,644.3 L1415.6,654.5 L1429.8,662.6 M1478.5,691.0 L1484.6,705.2 L1494.7,713.3 L1504.9,715.4 L1513.0,729.6 L1521.1,745.8 L1529.2,762.0 L1537.3,774.2 L1543.4,782.3 L1547.5,794.5 L1549.5,806.7 L1553.6,814.8 M1496.7,715.4 L1506.9,725.5 L1517.0,741.7 M1472.4,737.7 L1484.6,735.7 L1492.7,745.8 L1494.7,753.9 M1510.9,806.7 L1529.2,809.7 L1547.5,808.7 M1476.4,739.7 L1480.5,751.9 M1700.2,100.9 L1691.5,105.2 L1683.7,113.0 L1677.6,118.3 L1673.3,128.7 L1672.4,136.5 L1675.9,145.2 L1676.7,152.2 L1674.1,160.0 L1670.7,167.0 M1676.7,146.1 L1686.3,142.6 L1692.4,138.3 L1696.7,132.2 L1701.1,128.7 L1710.7,123.5 L1718.5,123.5 L1722.0,126.1 L1720.2,127.8 M1660.2,159.1 L1669.8,159.1 L1673.3,161.7 M1660.2,159.1 L1662.0,167.0 L1662.8,175.7 L1650.7,184.3 L1653.3,193.0 L1649.8,201.7 L1644.6,207.8 M1662.8,175.7 L1668.9,171.3 L1673.3,162.6 M1598.5,153.0 L1604.6,158.3 L1609.8,165.2 L1612.4,173.9 M1351.4,369.6 L1365.9,372.5 L1380.4,381.2 L1394.9,384.1 L1409.4,382.6 L1423.9,384.1 L1444.2,384.1 M1364.5,360.9 L1373.2,358.0 L1387.7,363.8 L1402.2,372.5 L1416.7,379.7 M1421.0,421.7 L1431.2,430.4 L1441.3,442.0 L1452.9,453.6 L1460.1,462.3 M1423.9,418.8 L1435.5,430.4 L1447.1,444.9 L1455.8,458.0 M1409.4,439.1 L1410.9,450.7 L1415.2,459.4 L1423.9,468.1 L1416.7,481.2 L1409.4,491.3 L1392.0,495.7 L1376.1,491.3 L1368.8,481.2 M1421.0,358.0 L1431.2,358.7 L1442.8,363.8 M1420.3,359.4 L1431.2,360.1 L1442.0,365.2 M1069.1,650.9 L1080.7,645.1 L1103.9,637.8 L1115.5,648.0 L1124.2,659.6 M1069.1,659.6 L1089.4,665.4 L1111.2,671.2 L1132.9,671.2 M1045.9,671.2 L1054.6,668.3 L1066.2,665.4 M1043.0,691.4 L1054.6,694.3 L1057.5,705.9 M1019.9,624.8 L1031.4,642.2 L1043.0,656.7 L1054.6,668.3 M935.8,633.5 L973.5,630.6 L1002.5,632.0 L1022.8,627.7 M959.0,636.4 L960.4,662.5 L963.3,674.1 M960.4,662.5 L995.2,659.6 L1022.8,653.8 M1017.0,705.9 L1031.4,697.2 L1045.9,682.8 L1060.4,677.0 M1089.4,601.6 L1118.4,630.6 L1138.7,637.8 M1031.4,610.3 L1045.9,616.1 L1066.2,616.1 L1089.4,603.0 M1089.4,679.9 L1096.7,720.4 L1103.9,749.4 L1109.7,763.9 M1118.4,691.4 L1109.7,705.9 L1108.3,720.4 L1098.1,732.0 M1103.9,756.7 L1115.5,752.3 L1124.2,758.1 L1118.4,766.8" fill="none" stroke="#686868" stroke-width="2.1" stroke-linejoin="round"/>
<path d="M495.7,97.2 L542.3,107.4 L582.9,115.5 L615.4,121.6 L634.6,125.0 L664.1,128.7 L730.0,135.2 M450.0,177.4 L461.2,179.4 L469.3,183.5 L481.4,193.6 L491.6,203.8 L522.0,206.8 L558.6,207.8 L601.2,214.3 M615.4,121.6 L609.3,161.2 L603.2,201.7 L601.2,214.3 L610.3,224.1 L605.2,238.3 L599.1,248.4 L591.0,256.5 L587.0,264.6 L589.0,272.8 L589.0,282.9 L579.9,340.7 M410.4,308.3 L461.2,319.4 L507.8,330.0 L579.9,340.7 L648.8,352.9 L718.8,359.0 M507.8,330.0 L501.7,364.1 L494.6,404.6 L492.6,430.0 M648.8,352.9 L638.7,430.0 M634.6,125.0 L632.6,147.0 L635.7,165.2 L643.8,177.4 L651.9,191.6 L660.0,203.8 L659.0,218.0 L653.9,228.1 L652.9,238.3 L664.1,240.3 L672.2,252.5 L676.2,262.6 L684.3,270.7 L686.4,277.8 L696.5,275.8 L704.6,276.8 L714.8,275.8 L722.9,271.7 L725.9,277.8 M710.0,133.2 L770.9,138.8 L831.7,143.9 L890.6,147.0 L953.5,146.6 L1014.3,145.9 L1036.7,144.9 L1060.0,143.9 M890.6,147.0 L888.6,242.3 L886.5,272.8 L885.5,338.7 L883.9,401.6 M728.3,264.6 L811.4,269.7 L886.5,273.2 M888.6,242.3 L973.8,242.9 L1052.9,241.3 M885.5,338.7 L953.5,338.7 L1014.3,338.1 L1024.5,343.8 L1034.6,341.7 L1044.8,342.8 L1054.9,345.8 L1059.0,350.9 M1036.7,144.9 L1039.7,171.3 L1045.8,193.6 L1049.9,218.0 L1054.9,236.2 L1052.9,242.3 L1050.9,252.5 L1054.9,262.6 L1059.0,264.6 L1059.0,331.6 L1058.0,341.7 L1059.0,350.9 M728.3,264.6 L722.2,323.5 L719.1,360.0 L717.1,393.5 M717.1,393.5 L762.8,396.5 L831.7,400.6 L883.9,401.6 L932.2,402.2 L932.2,430.0 M762.8,396.5 L761.7,430.0 M1060.3,319.4 L1121.2,315.4 L1182.0,311.3 M1149.6,208.8 L1149.6,222.0 L1145.5,234.2 L1139.4,242.3 L1137.4,252.5 L1139.4,262.6 L1141.4,274.8 L1149.6,282.9 L1161.7,291.0 L1173.9,301.2 L1182.0,311.3 L1186.1,321.4 L1188.1,329.6 L1196.2,339.7 L1204.3,345.8 L1210.4,351.9 L1213.5,362.0 L1208.4,370.1 L1196.2,376.2 L1194.2,384.3 L1196.2,394.5 L1190.1,402.6 L1186.1,412.8 L1190.1,424.9 L1194.2,430.0 M1202.3,339.7 L1265.2,333.2 M1190.1,209.9 L1202.3,218.0 L1222.6,222.0 L1242.9,224.1 L1249.0,234.2 L1253.0,242.3 L1255.1,248.4 L1255.1,252.5 M1094.8,412.8 L1180.0,404.6 L1186.1,412.8 M1040.0,341.7 L1052.2,343.8 L1060.3,347.8 L1066.4,360.0 L1072.5,374.2 L1076.5,388.4 L1080.6,404.6 L1082.6,414.8 L1088.7,430.0 M1060.3,319.4 L1059.3,331.6 L1060.3,347.8 M1295.7,350.9 L1340.3,345.8 L1382.9,341.7 M1277.4,363.0 L1283.5,404.6 L1286.5,430.0 M1340.3,345.8 L1348.4,392.5 L1353.5,430.0 M1455.1,311.6 L1488.6,302.5 L1553.6,287.2 L1563.7,291.3 M1439.9,320.7 L1447.0,384.6 M1455.1,304.5 L1455.1,311.6 M1447.0,384.6 L1496.7,373.5 L1553.6,362.3 L1561.7,364.3 M1563.7,291.3 L1569.8,299.4 L1575.9,309.6 L1569.8,319.7 L1577.9,327.8 L1579.9,344.1 L1569.8,356.2 L1567.8,364.3 M1575.9,309.6 L1596.2,321.7 M1573.8,178.7 L1577.9,202.0 L1582.0,212.2 L1588.0,232.5 L1592.1,242.6 L1596.2,262.9 L1600.2,283.2 L1604.3,299.4 L1600.2,303.5 L1608.3,309.6 M1610.4,168.6 L1614.4,181.7 L1610.4,193.9 L1612.4,212.2 L1618.5,222.3 L1622.5,234.5 M1621.5,159.4 L1634.7,191.9 L1642.8,218.3 L1646.9,220.3 M1592.1,242.6 L1622.5,234.5 L1646.9,226.4 L1650.9,228.4 M1596.2,262.9 L1628.6,253.8 L1644.9,249.7 L1648.9,262.9 L1653.0,275.1 M1634.7,252.8 L1638.8,285.2 M546.4,642.5 L593.0,645.5 M588.0,650.6 L684.3,702.3 L730.0,706.4 M603.2,570.4 L607.2,582.6 L612.3,594.8 L603.2,607.0 L601.2,619.1 L595.1,623.2 L594.1,633.3 L598.1,639.4 L593.0,645.5 L588.0,650.6 M493.6,428.4 L603.2,570.4 M603.2,570.4 L605.2,554.2 L606.2,540.0 L613.3,538.0 L619.4,541.0 L624.5,535.9 L626.5,514.6 M641.7,400.0 L626.5,514.6 M626.5,514.6 L664.1,516.7 L730.0,522.8 M762.8,400.0 L753.6,524.8 L746.5,602.9 L739.4,706.4 M710.0,520.7 L753.6,524.2 L831.7,529.9 L905.8,532.9 L932.2,531.9 L1014.3,531.9 L1060.0,529.9 M932.2,400.0 L931.2,434.5 L932.2,531.9 M931.2,434.5 L994.1,433.5 L1060.0,431.4 M905.8,532.9 L906.8,549.1 L903.8,623.2 L901.7,692.2 M906.8,549.1 L983.9,549.1 L984.9,611.0 L994.1,615.1 L1002.2,614.1 L1008.3,621.2 L1018.4,623.2 L1030.6,625.2 L1038.7,629.3 L1046.8,631.3 L1060.0,631.3 M1094.8,412.2 L1180.0,404.1 L1186.1,412.2 M1040.0,434.5 L1092.8,430.4 L1100.9,436.5 L1107.0,446.7 L1111.0,456.8 L1115.1,467.0 L1116.1,477.1 L1119.1,525.8 L1121.2,542.0 L1127.2,582.6 L1131.3,629.3 M1040.0,529.9 L1119.1,526.2 M1121.2,542.0 L1232.8,533.9 L1238.8,540.0 L1231.7,548.1 L1244.9,549.1 M1040.0,631.3 L1050.1,630.3 L1060.3,633.3 L1070.4,629.3 L1082.6,631.3 L1092.8,627.2 L1107.0,625.2 L1121.2,631.3 L1131.3,633.3 L1143.5,635.4 L1145.5,653.6 L1146.5,678.0 L1149.6,688.1 L1155.7,700.3 L1160.7,714.5 L1161.7,728.7 L1159.7,740.9 L1161.7,750.0 M1145.5,653.6 L1218.6,646.5 M1186.1,400.0 L1188.1,420.3 L1198.3,434.5 L1208.4,444.6 L1222.6,467.0 L1234.8,485.2 L1244.9,495.4 L1249.0,507.5 L1258.1,511.6 L1257.1,521.7 L1251.0,527.8 L1249.0,538.0 L1244.9,549.1 L1241.9,562.3 L1238.8,574.5 L1233.8,582.6 L1230.7,594.8 L1225.7,602.9 L1220.6,613.0 L1218.6,623.2 L1220.6,633.3 L1219.6,646.5 L1223.6,659.7 L1228.7,665.8 L1226.7,678.0 L1220.6,684.1 L1218.6,692.2 L1215.5,702.3 L1215.5,711.4 L1265.2,706.4 L1266.2,712.5 L1263.2,716.5 L1269.3,724.6 L1273.3,732.8 M1283.5,400.0 L1286.5,426.4 L1291.6,440.6 L1289.6,452.8 L1282.5,467.0 L1281.4,481.2 M1258.1,511.6 L1261.2,505.5 L1271.3,504.5 L1273.3,497.4 L1281.4,491.3 L1282.5,481.2 L1289.6,477.1 L1301.7,478.1 L1311.9,471.0 L1324.1,464.9 L1332.2,460.9 M1251.0,528.8 L1285.5,522.8 L1285.5,517.7 L1390.0,504.5 M1241.9,578.6 L1291.6,573.5 L1356.5,564.3 L1390.0,558.3 M1291.6,573.5 L1295.7,623.2 L1303.8,720.6 M1356.5,564.3 L1372.8,613.0 L1375.8,617.1 M1324.1,698.3 L1390.0,688.1 M1324.1,698.3 L1326.1,708.4 L1332.2,716.5 M1584.0,458.8 L1537.3,473.0 L1496.7,484.2 L1446.0,494.3 L1375.0,507.5 M1446.0,494.3 L1448.0,501.4 L1435.9,509.6 L1427.8,517.7 L1419.6,521.7 L1415.6,529.9 L1401.4,538.0 L1395.3,546.1 L1390.2,550.1 L1389.2,556.2 M1375.0,560.3 L1389.2,556.2 L1419.6,551.2 L1435.9,542.0 L1456.2,535.9 L1474.4,535.9 L1480.5,542.0 L1510.9,539.0 L1545.4,559.3 M1419.6,551.2 L1417.6,560.3 L1427.8,568.4 L1435.9,578.6 L1444.0,586.7 L1456.2,594.8 L1472.4,604.9 L1484.6,619.1 L1500.8,623.2 M1375.0,613.0 L1385.1,633.3 L1388.2,653.6 L1391.2,680.0 L1401.4,694.2 L1431.8,690.1 L1474.4,686.1 L1476.4,690.1 L1478.5,680.0 L1484.6,675.9 L1491.7,675.9 M1375.0,690.1 L1391.2,687.1 M806.4,692.3 L902.8,692.9 M1573.6,374.2 L1579.3,395.9 L1592.4,394.5 M1579.3,395.9 L1582.2,410.4 M1647.4,280.7 L1636.2,287.3 L1621.0,296.4 L1606.8,304.6 L1601.7,307.6 M1600.7,320.3 L1610.9,314.7 L1621.0,309.6 L1629.1,305.1 L1641.3,294.9 L1645.4,290.9 M1602.8,311.2 L1610.9,308.1 L1621.0,302.5 L1636.2,293.4 L1645.4,289.9 M1220.0,220.1 L1227.0,221.5 L1233.9,221.8 L1240.9,223.6 L1243.7,227.0 L1249.2,232.6 L1251.3,239.6 L1256.2,242.3 L1257.6,246.5 M1374.6,434.8 L1380.4,437.7 L1389.1,436.2 L1399.3,431.2 L1405.1,434.8 L1409.4,439.1 L1415.2,437.7 L1419.6,433.3 L1423.9,423.2 L1422.5,415.9 L1429.7,410.1 L1435.5,402.2 L1438.4,395.7 L1441.3,389.9 L1444.9,384.8 M1409.4,439.1 L1413.8,444.9 L1416.7,452.2 L1423.9,459.4 L1431.2,463.8 L1437.0,469.6 L1444.2,471.0 L1450.0,468.8 L1455.8,468.1 L1461.6,466.7 M1461.6,466.7 L1467.4,462.3 L1473.9,455.1 L1476.1,444.9 L1481.9,430.4 L1483.3,420.3 L1489.1,418.8 L1494.9,415.9 L1500.0,410.1 M1444.2,471.0 L1435.1,474.6 L1426.4,483.3 L1417.7,490.6 L1409.0,494.9 M1452.5,381.4 L1452.5,388.0 L1461.2,390.9 L1469.9,386.5 L1478.6,389.4 L1481.4,393.8 L1487.2,389.4 L1495.9,383.6 L1504.6,380.7 L1510.4,386.5 L1519.1,389.4 L1524.9,388.0 M1504.6,380.7 L1506.1,388.0 L1504.6,393.8 L1500.3,403.9 L1495.9,412.6" fill="none" stroke="#000" stroke-width="2.2" stroke-linejoin="round"/>
<path d="M1251.0,527.8 L1249.0,538.0 L1244.9,549.1 L1241.9,562.3 L1238.8,574.5 L1233.8,582.6 L1230.7,594.8 L1225.7,602.9 L1220.6,613.0 L1218.6,623.2 L1220.6,633.3 L1219.6,646.5 L1223.6,659.7 L1228.7,665.8 L1226.7,678.0 L1220.6,684.1 L1218.6,692.2 L1215.5,702.3 L1215.5,711.4 M1186.1,400.0 L1188.1,420.3 L1198.3,434.5 L1208.4,444.6 M1234.8,485.2 L1244.9,495.4 L1249.0,507.5 L1258.1,511.6 L1257.1,521.7 L1251.0,527.8 M1302.9,721.7 L1311.0,719.7 L1315.1,709.6 L1319.1,719.7 L1325.2,717.7 L1329.3,713.6 L1339.4,710.6 L1351.6,711.6 L1363.8,710.6 L1373.9,713.6 L1384.1,717.7 L1390.1,725.8 L1396.2,729.9 L1404.3,727.8 L1412.5,719.7 M1427.8,711.3 L1433.8,713.3 L1442.0,719.4 L1450.1,725.5 L1456.2,733.6 L1464.3,735.7 L1470.4,743.8 M1496.7,802.6 L1500.8,808.7 L1506.9,804.6 L1508.9,810.7 L1513.0,818.8 L1517.0,824.9 L1525.1,829.0 L1531.2,833.0 L1539.3,840.1 L1537.3,843.2 L1541.4,849.3 L1547.5,854.3 L1553.6,851.3 L1559.6,845.2 M1561.7,557.2 L1553.6,558.3 L1547.5,560.3 L1543.4,564.3 L1537.3,572.5 L1533.3,582.6 L1531.2,590.7 L1525.1,596.8 L1521.1,604.9 L1515.0,611.0 L1508.9,619.1 L1504.9,625.2 M1496.7,643.5 L1492.7,653.6 L1491.7,663.8 L1492.7,673.9 M1592.1,521.7 L1582.0,523.8 L1573.8,527.8 L1567.8,533.9 L1564.7,542.0 L1561.7,550.1 L1561.7,557.2 M1062.0,886.1 L1051.9,882.0 L1039.7,880.0 L1027.5,875.9 L1015.4,869.9 L1009.3,859.7 L1003.2,847.5 L1001.2,835.4 L993.0,827.2 L982.9,815.1 L974.8,802.9 L968.7,790.7 L962.6,780.6 L954.5,772.5 L946.4,765.4 L934.2,764.3 L920.0,763.3 L911.9,768.4 L906.8,778.6 L901.7,786.7 L895.7,788.7 L887.5,784.6 L877.4,778.6 L867.2,770.4 L859.1,760.3 L856.1,752.2 L851.0,740.0 L844.9,731.9 L834.8,723.8 L824.6,713.6 L814.5,703.5 L806.4,692.3 M984.9,611.0 L994.1,615.1 L1002.2,614.1 L1008.3,621.2 L1018.4,623.2 L1030.6,625.2 L1038.7,629.3 L1046.8,631.3 L1060.0,631.3 M1040.0,631.3 L1050.1,630.3 L1060.3,633.3 L1070.4,629.3 L1082.6,631.3 L1092.8,627.2 L1107.0,625.2 L1121.2,631.3 L1131.3,633.3 L1143.5,635.4 M1598.2,324.9 L1602.5,327.8 L1604.7,338.0 L1605.4,349.6 L1602.5,361.2 L1598.2,369.9 L1595.3,378.6 M1585.1,378.6 L1590.9,384.3 L1595.3,393.0 L1596.0,403.2 L1593.8,413.3 L1589.5,424.9 L1586.6,436.5 L1583.7,445.2 M450.0,177.4 L451.0,173.3 L450.0,161.2 L451.0,151.0 L451.0,140.9 L450.0,130.7 L447.0,120.6 L448.0,110.4 L449.0,105.4 L454.1,106.4 L460.1,114.5 L469.3,118.6 L477.4,121.6 M1149.6,208.8 L1161.7,206.8 L1171.9,202.8 L1180.0,195.7 L1186.1,194.6 L1182.0,207.8 L1190.1,209.9 L1194.2,205.8 L1202.3,201.7 L1212.5,197.7 M1348.4,226.1 L1356.5,234.2 L1358.6,248.4 L1356.5,258.6 L1350.4,268.7 L1348.4,278.8 L1356.5,274.8 L1364.6,264.6 L1372.8,262.6 L1380.9,282.9 L1384.9,299.1 L1387.0,307.2 M1659.1,236.5 L1661.1,246.7 L1659.1,254.8 L1663.1,260.9 L1675.3,262.9 L1683.4,256.8 L1679.3,248.7 L1673.3,247.7 M1515.0,228.4 L1517.0,222.3 L1525.1,214.2 L1531.2,200.0" fill="none" stroke="#000" stroke-width="3.2" stroke-linejoin="round" stroke-linecap="round"/>
<path d="M1601.1,481.4 L1608.3,485.8 L1610.5,494.5 L1605.4,506.1 L1599.6,513.3 L1596.7,509.0 L1601.1,500.3 L1602.5,491.6Z M1567.8,407.5 L1575.0,416.2 L1577.9,430.7 L1580.8,443.8 L1578.6,445.2 L1575.0,433.6 L1572.1,422.0 L1566.3,410.4Z M1647.4,281.7 L1636.2,288.8 L1621.0,298.0 L1606.8,306.1 L1602.8,310.1 L1606.8,310.1 L1621.0,302.0 L1636.2,292.9 L1646.4,286.8Z M1268.0,220.1 L1269.7,221.1 L1267.7,229.1 L1264.2,238.2 L1261.4,246.5 L1259.3,253.5 L1255.8,262.5 L1253.4,267.0 L1251.7,266.3 L1251.7,263.2 L1254.4,254.9 L1258.3,247.2 L1261.0,239.6 L1263.8,231.2 L1265.9,225.0Z" fill="#fff" stroke="#000" stroke-width="1.2"/>
<path d="M1208.8,166.8 L1212.5,162.2 L1220.6,156.1 L1229.7,150.0 L1227.7,155.1 L1220.6,161.2 L1213.5,166.2Z M1180.0,195.7 L1188.1,193.6 L1189.1,199.7 L1185.1,203.8 L1182.0,209.9 L1178.0,207.8 L1180.0,201.7Z M465.2,605.9 L469.3,607.0 L470.3,610.0 L466.2,610.0Z M492.6,604.9 L496.7,605.9 L500.7,611.0 L497.7,612.0 L493.6,609.0Z M489.6,619.1 L492.6,620.1 L496.7,627.2 L493.6,628.3 L490.6,623.2Z M480.4,601.9 L482.5,601.9 L482.5,603.9 L480.4,603.9Z M1515.0,872.6 L1525.1,866.5 L1537.3,860.4 L1547.5,855.4 L1549.5,857.4 L1539.3,863.5 L1527.2,869.6 L1517.0,873.6Z M1489.6,873.6 L1494.7,872.6 L1494.7,874.6 L1490.7,876.1Z M1510.9,871.2 L1515.0,869.6 L1515.0,872.6 L1512.0,873.6Z M482.2,104.3 L488.0,101.4 L493.8,97.4 L496.1,103.2 L499.6,106.1 L499.6,114.8 L498.4,120.6 L499.6,129.3 L498.4,135.1 L493.8,140.9 L494.9,146.7 L490.9,152.5 L485.1,155.4 L479.3,156.5 L474.6,155.4 L474.1,149.6 L475.8,143.8 L479.3,138.0 L485.1,132.2 L488.0,129.3 L482.2,125.2 L482.2,121.7 L487.4,119.4 L488.0,114.8 L482.2,109.0Z M487.4,93.9 L489.7,93.9 L490.0,96.2 L487.7,96.5Z M449.7,150.7 L454.3,151.3 L459.0,153.9 L455.5,155.4 L456.7,161.2 L454.3,164.1 L453.2,169.9 L450.9,175.7 L447.4,175.1 L448.6,167.0 L450.3,161.2 L449.7,155.4Z M1713.3,139.1 L1710.7,146.1 L1703.7,152.2 L1696.7,158.3 L1692.4,167.0 L1688.0,173.9 L1683.7,177.4 L1679.3,180.0 L1675.0,187.0 L1668.9,192.2 L1662.0,196.5 L1656.7,200.0 L1653.3,201.7 L1655.0,194.8 L1660.2,189.6 L1665.4,183.5 L1670.7,180.0 L1675.0,175.7 L1674.1,167.0 L1677.6,161.7 L1684.6,158.3 L1688.0,156.5 L1695.0,151.3 L1701.1,147.0 L1705.4,144.3 L1707.2,139.1 L1707.2,135.7 L1710.7,135.7Z M1681.1,181.7 L1685.4,180.9 L1685.4,185.2 L1682.0,186.1Z M1558.3,367.0 L1563.4,368.4 L1566.3,381.4 L1569.2,393.0 L1573.6,395.9 L1570.7,401.7 L1564.9,400.3 L1562.0,390.1 L1559.8,378.6Z M1553.3,407.5 L1562.0,410.4 L1567.8,419.1 L1570.7,430.7 L1576.4,439.4 L1575.0,445.2 L1567.8,439.4 L1562.0,427.8 L1556.2,417.7Z M1567.8,401.7 L1576.4,404.6 L1582.2,410.4 L1585.1,422.0 L1585.1,436.5 L1582.2,445.2 L1579.3,436.5 L1579.3,424.9 L1576.4,414.8 L1569.2,407.5Z M1548.9,442.3 L1556.2,440.9 L1564.9,445.2 L1573.6,449.6 L1579.3,453.9 L1576.4,456.8 L1567.8,452.5 L1559.1,448.1 L1550.4,446.7Z M1582.2,445.2 L1585.9,446.7 L1592.4,457.5 L1601.1,472.0 L1609.8,482.9 L1612.7,493.0 L1610.5,494.5 L1606.2,484.3 L1598.2,474.2 L1589.5,459.7Z M1570.7,472.8 L1579.3,474.2 L1585.1,478.6 L1593.8,474.2 L1599.6,480.0 L1596.7,488.7 L1590.9,485.8 L1585.1,487.2 L1579.3,482.9 L1573.6,482.9Z M1569.2,500.3 L1579.3,494.5 L1588.0,497.4 L1590.9,506.1 L1599.6,511.9 L1596.7,520.6 L1590.9,526.4 L1582.2,520.6 L1576.4,511.9 L1570.7,506.1Z M1590.9,372.8 L1595.3,374.2 L1596.0,380.0 L1592.4,380.0Z M1648.9,264.0 L1657.1,261.3 L1661.6,264.9 L1670.8,267.7 L1675.3,270.4 L1670.8,273.2 L1666.2,276.8 L1661.6,272.2 L1656.2,270.4 L1652.5,268.6Z M1678.2,266.8 L1684.6,267.7 L1686.0,270.5 L1681.9,271.8 L1679.2,270.5Z M1649.1,283.9 L1651.8,284.4 L1651.8,286.7 L1649.5,286.7Z M1642.0,290.0 L1645.2,290.5 L1644.7,293.2 L1642.0,292.8Z M1060.8,837.2 L1063.1,824.6 L1068.6,818.4 L1076.7,809.8 L1085.8,800.4 L1093.6,794.9 L1087.4,802.7 L1078.0,812.1 L1070.2,823.1 L1065.5,837.2 L1065.5,851.2 L1068.6,865.3 L1072.5,877.8 L1070.5,878.8 L1066.2,865.3 L1062.6,852.8 L1061.1,843.4Z M1098.3,795.8 L1110.8,787.9 L1120.2,780.1 L1129.6,772.3 L1132.7,761.3 L1134.3,766.0 L1132.7,770.7 L1126.4,777.0 L1117.1,784.8 L1101.4,795.8 L1093.6,800.5Z M1203.0,754.1 L1210.9,749.4 L1218.7,752.5 L1215.6,758.8 L1210.9,761.9 L1206.2,757.2Z M1223.3,758.1 L1232.7,759.7 L1235.8,765.9 L1240.5,767.5 L1246.8,762.8 L1254.6,759.7 L1259.3,761.2 L1256.2,767.5 L1248.4,770.6 L1240.5,772.2 L1232.7,767.5 L1226.4,762.8Z M1259.9,754.2 L1270.8,752.6 L1273.9,744.8 L1280.2,743.3 L1281.8,751.1 L1277.1,755.8 L1286.5,757.3 L1292.7,760.5 L1289.6,766.7 L1283.3,769.9 L1280.2,763.6 L1273.9,758.9 L1266.1,760.5Z M1296.5,218.0 L1302.1,216.6 L1305.6,218.0 L1303.5,220.8 L1304.2,225.0 L1300.0,225.7 L1297.9,222.9Z M1293.7,221.8 L1295.5,221.8 L1295.5,223.9 L1293.7,223.9Z M1295.1,229.8 L1297.9,229.1 L1297.9,232.6 L1295.8,233.3Z M1291.7,241.0 L1294.4,240.3 L1294.4,244.4 L1291.7,245.8Z M1300.0,240.3 L1305.6,238.9 L1307.0,243.7 L1302.1,245.8Z M1317.4,209.0 L1323.0,207.6 L1328.5,209.0 L1334.1,204.8 L1340.0,204.1 L1340.0,207.6 L1334.8,209.0 L1328.5,212.4 L1323.0,211.7 L1318.8,213.1Z M1488.6,648.4 L1494.7,650.4 L1493.7,674.8 L1488.6,676.8 L1487.6,660.6Z M1537.3,841.2 L1543.4,843.2 L1551.5,847.2 L1559.6,843.2 L1560.7,847.2 L1553.6,853.3 L1547.5,855.4 L1541.4,850.3Z M1495.7,800.6 L1500.8,802.6 L1506.9,804.6 L1504.9,812.8 L1499.8,813.8 L1496.7,806.7Z M1515.0,873.6 L1525.1,866.5 L1537.3,859.4 L1547.5,854.3 L1550.5,857.4 L1540.4,864.5 L1528.2,871.6 L1517.0,875.2Z M1497.3,615.5 L1504.7,613.7 L1508.3,619.1 L1504.7,624.6 L1499.2,622.8Z M1515.7,597.0 L1523.0,595.2 L1528.5,595.2 L1524.8,602.5 L1517.5,604.3Z M1559.8,550.6 L1563.4,552.4 L1562.5,557.9 L1558.9,557.0Z" fill="#000" stroke="#000" stroke-width="1"/>
<circle cx="495.2" cy="134.8" r="3.0" fill="#80CDC1" stroke="#000" stroke-width="2.1"/>
<circle cx="599.7" cy="159.7" r="7.5" fill="#80CDC1" stroke="#000" stroke-width="2.1"/>
<circle cx="472.9" cy="204.2" r="17.9" fill="#DFB45F" stroke="#000" stroke-width="2.1"/>
<circle cx="472.9" cy="207.4" r="10.6" fill="#80CDC1" stroke="#000" stroke-width="2.1"/>
<circle cx="472.9" cy="204.4" r="4.1" fill="#80CDC1" stroke="#000" stroke-width="2.1"/>
<circle cx="669.7" cy="196.3" r="10.6" fill="#80CDC1" stroke="#000" stroke-width="2.1"/>
<circle cx="712.3" cy="210.3" r="4.5" fill="#80CDC1" stroke="#000" stroke-width="2.1"/>
<circle cx="605.2" cy="292.6" r="14.6" fill="#80CDC1" stroke="#000" stroke-width="2.1"/>
<circle cx="648.8" cy="302.8" r="7.7" fill="#80CDC1" stroke="#000" stroke-width="2.1"/>
<circle cx="648.2" cy="296.1" r="7.7" fill="#80CDC1" stroke="#000" stroke-width="2.1"/>
<circle cx="403.9" cy="344.8" r="4.1" fill="#80CDC1" stroke="#000" stroke-width="2.1"/>
<circle cx="467.2" cy="409.7" r="4.1" fill="#80CDC1" stroke="#000" stroke-width="2.1"/>
<circle cx="488.1" cy="411.7" r="4.1" fill="#80CDC1" stroke="#000" stroke-width="2.1"/>
<circle cx="490.6" cy="424.9" r="4.1" fill="#80CDC1" stroke="#000" stroke-width="2.1"/>
<circle cx="1129.3" cy="267.7" r="6.1" fill="#018571" stroke="#000" stroke-width="2.1"/>
<circle cx="1135.0" cy="267.7" r="7.7" fill="#80CDC1" stroke="#000" stroke-width="2.1"/>
<circle cx="1171.9" cy="268.3" r="4.1" fill="#80CDC1" stroke="#000" stroke-width="2.1"/>
<circle cx="1181.4" cy="299.5" r="7.7" fill="#80CDC1" stroke="#000" stroke-width="2.1"/>
<circle cx="1226.1" cy="317.8" r="15.2" fill="#80CDC1" stroke="#000" stroke-width="2.1"/>
<circle cx="1225.0" cy="317.4" r="10.1" fill="#80CDC1" stroke="#000" stroke-width="2.1"/>
<circle cx="1224.6" cy="317.0" r="6.1" fill="#80CDC1" stroke="#000" stroke-width="2.1"/>
<circle cx="1227.7" cy="319.0" r="2.4" fill="#80CDC1" stroke="#000" stroke-width="2.1"/>
<circle cx="1271.3" cy="353.9" r="10.6" fill="#80CDC1" stroke="#000" stroke-width="2.1"/>
<circle cx="1270.3" cy="345.8" r="11.2" fill="#80CDC1" stroke="#000" stroke-width="2.1"/>
<circle cx="1132.7" cy="376.6" r="7.7" fill="#80CDC1" stroke="#000" stroke-width="2.1"/>
<circle cx="1089.1" cy="417.4" r="7.7" fill="#018571" stroke="#000" stroke-width="2.1"/>
<circle cx="1304.8" cy="252.1" r="7.1" fill="#80CDC1" stroke="#000" stroke-width="2.1"/>
<circle cx="1315.3" cy="230.1" r="11.2" fill="#80CDC1" stroke="#000" stroke-width="2.1"/>
<circle cx="1495.7" cy="263.9" r="17.9" fill="#DFB45F" stroke="#000" stroke-width="2.1"/>
<circle cx="1580.9" cy="194.9" r="7.7" fill="#80CDC1" stroke="#000" stroke-width="2.1"/>
<circle cx="1631.7" cy="222.3" r="7.1" fill="#80CDC1" stroke="#000" stroke-width="2.1"/>
<circle cx="1618.5" cy="242.6" r="12.2" fill="#DFB45F" stroke="#000" stroke-width="2.1"/>
<circle cx="1609.8" cy="220.3" r="17.2" fill="#80CDC1" stroke="#000" stroke-width="2.1"/>
<circle cx="1609.8" cy="218.7" r="3.7" fill="#80CDC1" stroke="#000" stroke-width="2.1"/>
<circle cx="1616.0" cy="235.9" r="3.7" fill="#80CDC1" stroke="#000" stroke-width="2.1"/>
<circle cx="1648.9" cy="245.7" r="13.8" fill="#80CDC1" stroke="#000" stroke-width="2.1"/>
<circle cx="1640.8" cy="238.6" r="13.8" fill="#80CDC1" stroke="#000" stroke-width="2.1"/>
<circle cx="1603.9" cy="254.8" r="7.1" fill="#80CDC1" stroke="#000" stroke-width="2.1"/>
<circle cx="1616.4" cy="256.8" r="9.1" fill="#80CDC1" stroke="#000" stroke-width="2.1"/>
<circle cx="1617.5" cy="275.5" r="10.1" fill="#80CDC1" stroke="#000" stroke-width="2.1"/>
<circle cx="1634.3" cy="300.4" r="7.1" fill="#80CDC1" stroke="#000" stroke-width="2.1"/>
<circle cx="1411.5" cy="339.0" r="14.6" fill="#80CDC1" stroke="#000" stroke-width="2.1"/>
<circle cx="1417.6" cy="336.3" r="7.5" fill="#80CDC1" stroke="#000" stroke-width="2.1"/>
<circle cx="1508.9" cy="339.6" r="14.6" fill="#80CDC1" stroke="#000" stroke-width="2.1"/>
<circle cx="1461.6" cy="362.3" r="17.9" fill="#DFB45F" stroke="#000" stroke-width="2.1"/>
<circle cx="1392.2" cy="396.4" r="7.1" fill="#80CDC1" stroke="#000" stroke-width="2.1"/>
<circle cx="1550.4" cy="326.4" r="16.7" fill="#DFB45F" stroke="#000" stroke-width="2.1"/>
<circle cx="1579.3" cy="333.6" r="17.4" fill="#DFB45F" stroke="#000" stroke-width="2.1"/>
<circle cx="1572.1" cy="349.6" r="21.7" fill="#DFB45F" stroke="#000" stroke-width="2.1"/>
<circle cx="1567.8" cy="348.1" r="20.3" fill="none" stroke="#000" stroke-width="2.1"/>
<circle cx="1567.8" cy="351.0" r="14.5" fill="#80CDC1" stroke="#000" stroke-width="2.1"/>
<circle cx="1576.4" cy="336.5" r="7.2" fill="#80CDC1" stroke="#000" stroke-width="2.1"/>
<circle cx="1570.7" cy="343.8" r="13.0" fill="none" stroke="#000" stroke-width="2.1"/>
<circle cx="1567.0" cy="345.9" r="5.8" fill="#80CDC1" stroke="#000" stroke-width="2.1"/>
<circle cx="1562.0" cy="353.9" r="4.3" fill="none" stroke="#000" stroke-width="2.1"/>
<circle cx="1575.0" cy="348.1" r="2.9" fill="#80CDC1" stroke="#000" stroke-width="2.1"/>
<circle cx="1590.5" cy="327.1" r="3.2" fill="#80CDC1" stroke="#000" stroke-width="2.1"/>
<circle cx="1543.8" cy="390.9" r="17.4" fill="#DFB45F" stroke="#000" stroke-width="2.1"/>
<circle cx="1542.0" cy="393.8" r="10.1" fill="#80CDC1" stroke="#000" stroke-width="2.1"/>
<circle cx="1537.3" cy="415.5" r="14.5" fill="#80CDC1" stroke="#000" stroke-width="2.1"/>
<circle cx="1515.3" cy="494.8" r="3.2" fill="#80CDC1" stroke="#000" stroke-width="2.1"/>
<circle cx="1518.5" cy="499.6" r="2.2" fill="#80CDC1" stroke="#000" stroke-width="2.1"/>
<circle cx="1523.6" cy="504.3" r="3.5" fill="#80CDC1" stroke="#000" stroke-width="2.1"/>
<circle cx="417.5" cy="448.7" r="13.2" fill="#DFB45F" stroke="#000" stroke-width="2.1"/>
<circle cx="427.7" cy="446.7" r="14.2" fill="#80CDC1" stroke="#000" stroke-width="2.1"/>
<circle cx="422.6" cy="450.1" r="3.7" fill="#80CDC1" stroke="#000" stroke-width="2.1"/>
<circle cx="427.7" cy="458.8" r="9.1" fill="#80CDC1" stroke="#000" stroke-width="2.1"/>
<circle cx="441.9" cy="500.4" r="8.1" fill="#018571" stroke="#000" stroke-width="2.1"/>
<circle cx="440.9" cy="481.2" r="12.2" fill="#018571" stroke="#000" stroke-width="2.1"/>
<circle cx="433.8" cy="480.1" r="14.6" fill="#018571" stroke="#000" stroke-width="2.1"/>
<circle cx="433.8" cy="467.6" r="7.1" fill="#80CDC1" stroke="#000" stroke-width="2.1"/>
<circle cx="450.0" cy="538.0" r="14.6" fill="#018571" stroke="#000" stroke-width="2.1"/>
<circle cx="487.5" cy="582.6" r="13.2" fill="#018571" stroke="#000" stroke-width="2.1"/>
<circle cx="469.3" cy="569.4" r="17.2" fill="#80CDC1" stroke="#000" stroke-width="2.1"/>
<circle cx="509.9" cy="586.7" r="13.8" fill="#018571" stroke="#000" stroke-width="2.1"/>
<circle cx="501.7" cy="585.7" r="10.6" fill="#018571" stroke="#000" stroke-width="2.1"/>
<circle cx="501.7" cy="585.7" r="6.5" fill="#80CDC1" stroke="#000" stroke-width="2.1"/>
<circle cx="528.1" cy="632.3" r="18.7" fill="#DFB45F" stroke="#000" stroke-width="2.1"/>
<circle cx="527.1" cy="631.3" r="16.6" fill="#80CDC1" stroke="#000" stroke-width="2.1"/>
<circle cx="525.1" cy="626.2" r="7.1" fill="#80CDC1" stroke="#000" stroke-width="2.1"/>
<circle cx="636.7" cy="506.9" r="10.1" fill="#80CDC1" stroke="#000" stroke-width="2.1"/>
<circle cx="653.9" cy="508.6" r="10.6" fill="#80CDC1" stroke="#000" stroke-width="2.1"/>
<circle cx="749.6" cy="471.6" r="14.6" fill="#80CDC1" stroke="#000" stroke-width="2.1"/>
<circle cx="745.5" cy="473.0" r="4.1" fill="#80CDC1" stroke="#000" stroke-width="2.1"/>
<circle cx="783.4" cy="518.3" r="4.1" fill="#80CDC1" stroke="#000" stroke-width="2.1"/>
<circle cx="859.1" cy="414.2" r="10.6" fill="#80CDC1" stroke="#000" stroke-width="2.1"/>
<circle cx="843.9" cy="432.5" r="11.2" fill="#80CDC1" stroke="#000" stroke-width="2.1"/>
<circle cx="863.2" cy="441.6" r="7.1" fill="#80CDC1" stroke="#000" stroke-width="2.1"/>
<circle cx="857.7" cy="427.4" r="10.6" fill="#80CDC1" stroke="#000" stroke-width="2.1"/>
<circle cx="848.0" cy="433.5" r="7.1" fill="#80CDC1" stroke="#000" stroke-width="2.1"/>
<circle cx="854.1" cy="442.6" r="3.0" fill="#80CDC1" stroke="#000" stroke-width="2.1"/>
<circle cx="833.8" cy="449.7" r="3.0" fill="#018571" stroke="#000" stroke-width="2.1"/>
<circle cx="832.8" cy="443.6" r="3.7" fill="#80CDC1" stroke="#000" stroke-width="2.1"/>
<circle cx="813.5" cy="458.2" r="4.1" fill="#018571" stroke="#000" stroke-width="2.1"/>
<circle cx="867.2" cy="489.9" r="8.1" fill="#80CDC1" stroke="#000" stroke-width="2.1"/>
<circle cx="841.9" cy="545.1" r="15.2" fill="#80CDC1" stroke="#000" stroke-width="2.1"/>
<circle cx="844.3" cy="542.6" r="15.2" fill="#80CDC1" stroke="#000" stroke-width="2.1"/>
<circle cx="768.2" cy="661.1" r="8.1" fill="#80CDC1" stroke="#000" stroke-width="2.1"/>
<circle cx="1000.1" cy="512.0" r="4.1" fill="#018571" stroke="#000" stroke-width="2.1"/>
<circle cx="1052.5" cy="587.1" r="4.1" fill="#80CDC1" stroke="#000" stroke-width="2.1"/>
<circle cx="1115.7" cy="457.4" r="7.7" fill="#80CDC1" stroke="#000" stroke-width="2.1"/>
<circle cx="1223.6" cy="462.9" r="18.3" fill="#DFB45F" stroke="#000" stroke-width="2.1"/>
<circle cx="1223.6" cy="462.9" r="14.6" fill="#80CDC1" stroke="#000" stroke-width="2.1"/>
<circle cx="1339.3" cy="460.5" r="11.2" fill="#80CDC1" stroke="#000" stroke-width="2.1"/>
<circle cx="1361.6" cy="426.4" r="14.2" fill="#80CDC1" stroke="#000" stroke-width="2.1"/>
<circle cx="1364.6" cy="406.1" r="14.2" fill="#80CDC1" stroke="#000" stroke-width="2.1"/>
<circle cx="1088.3" cy="556.2" r="17.9" fill="#DFB45F" stroke="#000" stroke-width="2.1"/>
<circle cx="1133.3" cy="554.8" r="7.7" fill="#80CDC1" stroke="#000" stroke-width="2.1"/>
<circle cx="1060.9" cy="651.6" r="4.5" fill="#80CDC1" stroke="#000" stroke-width="2.1"/>
<circle cx="1049.1" cy="733.8" r="10.6" fill="#018571" stroke="#000" stroke-width="2.1"/>
<circle cx="1260.1" cy="723.2" r="4.1" fill="#80CDC1" stroke="#000" stroke-width="2.1"/>
<circle cx="1537.3" cy="415.2" r="14.2" fill="#80CDC1" stroke="#000" stroke-width="2.1"/>
<circle cx="1473.8" cy="465.9" r="11.2" fill="#80CDC1" stroke="#000" stroke-width="2.1"/>
<circle cx="1515.0" cy="495.0" r="4.1" fill="#80CDC1" stroke="#000" stroke-width="2.1"/>
<circle cx="1519.5" cy="499.8" r="3.0" fill="#80CDC1" stroke="#000" stroke-width="2.1"/>
<circle cx="1523.5" cy="504.5" r="4.1" fill="#80CDC1" stroke="#000" stroke-width="2.1"/>
<circle cx="1484.2" cy="569.4" r="4.5" fill="#80CDC1" stroke="#000" stroke-width="2.1"/>
<circle cx="1394.7" cy="596.8" r="14.2" fill="#80CDC1" stroke="#000" stroke-width="2.1"/>
<circle cx="1398.9" cy="593.8" r="7.1" fill="#80CDC1" stroke="#000" stroke-width="2.1"/>
<circle cx="1421.3" cy="585.0" r="14.2" fill="#80CDC1" stroke="#000" stroke-width="2.1"/>
<circle cx="1458.2" cy="596.8" r="14.6" fill="#80CDC1" stroke="#000" stroke-width="2.1"/>
<circle cx="1490.2" cy="633.9" r="14.2" fill="#80CDC1" stroke="#000" stroke-width="2.1"/>
<circle cx="1418.2" cy="699.7" r="14.2" fill="#80CDC1" stroke="#000" stroke-width="2.1"/>
<circle cx="1474.4" cy="713.5" r="14.6" fill="#80CDC1" stroke="#000" stroke-width="2.1"/>
<circle cx="1049.9" cy="733.9" r="11.2" fill="#018571" stroke="#000" stroke-width="2.1"/>
<circle cx="1510.3" cy="745.8" r="4.1" fill="#80CDC1" stroke="#000" stroke-width="2.1"/>
<circle cx="1526.2" cy="744.8" r="7.1" fill="#80CDC1" stroke="#000" stroke-width="2.1"/>
<circle cx="1533.3" cy="750.5" r="7.1" fill="#80CDC1" stroke="#000" stroke-width="2.1"/>
<circle cx="1482.5" cy="767.1" r="17.9" fill="#DFB45F" stroke="#000" stroke-width="2.1"/>
<circle cx="1487.6" cy="788.4" r="15.8" fill="#DFB45F" stroke="#000" stroke-width="2.1"/>
<circle cx="1472.0" cy="771.2" r="9.1" fill="#80CDC1" stroke="#000" stroke-width="2.1"/>
<circle cx="1483.6" cy="788.0" r="14.6" fill="#80CDC1" stroke="#000" stroke-width="2.1"/>
<circle cx="1474.4" cy="770.1" r="8.1" fill="none" stroke="#000" stroke-width="2.1"/>
<circle cx="1478.1" cy="774.8" r="7.1" fill="#80CDC1" stroke="#000" stroke-width="2.1"/>
<circle cx="1558.6" cy="824.9" r="7.1" fill="#80CDC1" stroke="#000" stroke-width="2.1"/>
<circle cx="693.1" cy="398.7" r="17.4" fill="#DFB45F" stroke="#000" stroke-width="2.1"/>
<circle cx="694.5" cy="380.6" r="7.7" fill="#80CDC1" stroke="#000" stroke-width="2.1"/>
<circle cx="706.3" cy="402.2" r="17.7" fill="#80CDC1" stroke="#000" stroke-width="2.1"/>
<circle cx="694.5" cy="398.0" r="9.0" fill="#018571" stroke="#000" stroke-width="2.1"/>
<circle cx="692.4" cy="398.7" r="7.3" fill="#80CDC1" stroke="#000" stroke-width="2.1"/>
<path d="M90,15 H182" stroke="#666" stroke-width="1.6" fill="none"/>
<g font-size="29.8px"><text x="207" y="24" font-size="30.1px">&gt; 300kV Transmission Line</text><text x="214" y="82">&lt; 10k</text><text x="199" y="144">10k - 50k</text><text x="198" y="205">50k - 100k</text><text x="199" y="266">100k - 500k</text><text x="213" y="335">&gt; 500k</text></g>
<circle cx="154.5" cy="67" r="5" fill="#fafafa" stroke="#000" stroke-width="2"/>
<circle cx="154.5" cy="127.5" r="10.5" fill="#fafafa" stroke="#000" stroke-width="2"/>
<circle cx="154.5" cy="188.5" r="15.5" fill="#fafafa" stroke="#000" stroke-width="2"/>
<circle cx="154.5" cy="249.5" r="21" fill="#fafafa" stroke="#000" stroke-width="2"/>
<circle cx="154.5" cy="314.5" r="26.5" fill="#fafafa" stroke="#000" stroke-width="2"/>
<text x="1487" y="977" font-size="34.8px">City Status</text>
<rect x="1487" y="1011.5" width="50" height="50" fill="#80CDC1"/>
<text x="1546.5" y="1051.5" font-size="28.5px">Committed</text>
<rect x="1487" y="1066.5" width="50" height="50" fill="#BF812D"/>
<text x="1546.5" y="1106.5" font-size="28.5px">Selected</text>
<rect x="1487" y="1121.7" width="50" height="50" fill="#018571"/>
<text x="1546.5" y="1161.7" font-size="28.5px">Powered</text>
</svg></body></html>
